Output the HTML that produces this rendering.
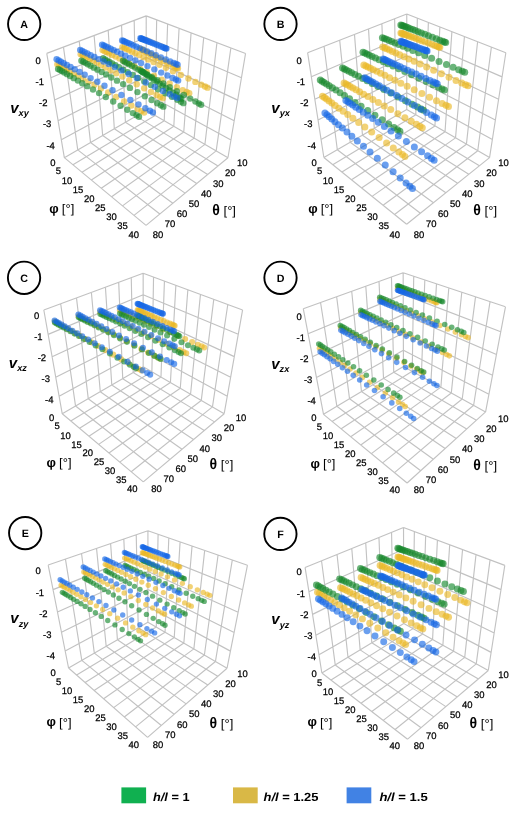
<!DOCTYPE html>
<html><head><meta charset="utf-8"><title>Figure</title>
<style>
html,body{margin:0;padding:0;background:#fff}
svg{display:block}
text{font-family:"Liberation Sans",sans-serif;fill:#000;text-rendering:geometricPrecision}
</style></head><body>
<svg width="520" height="817" viewBox="0 0 520 817">
<defs><filter id="bl" x="-5%" y="-5%" width="110%" height="110%"><feGaussianBlur stdDeviation="0.6"/></filter></defs>
<rect width="520" height="817" fill="#fff"/>
<path d="M146.21 15.85L146.19 110.24 M146.19 110.24L227.95 157.75 M134.19 20.39L136.03 116.13 M136.03 116.13L218.05 165.92 M121.54 25.16L125.41 122.28 M125.41 122.28L207.63 174.52 M108.2 30.19L114.31 128.71 M114.31 128.71L196.65 183.59 M94.12 35.5L102.69 135.44 M102.69 135.44L185.05 193.15 M79.24 41.12L90.52 142.49 M90.52 142.49L172.8 203.27 M63.47 47.06L77.75 149.89 M77.75 149.89L159.81 213.99 M46.75 53.37L64.34 157.65 M64.34 157.65L146.05 225.35 M146.21 15.85L146.19 110.24 M146.19 110.24L64.34 157.65 M156.67 19.81L155.05 115.39 M155.05 115.39L72.95 164.79 M167.62 23.96L164.26 120.74 M164.26 120.74L81.96 172.25 M179.08 28.3L173.82 126.29 M173.82 126.29L91.38 180.06 M191.09 32.84L183.77 132.08 M183.77 132.08L101.26 188.24 M203.7 37.61L194.14 138.1 M194.14 138.1L111.63 196.84 M216.95 42.63L204.93 144.37 M204.93 144.37L122.52 205.86 M230.88 47.9L216.19 150.92 M216.19 150.92L133.98 215.35 M245.56 53.45L227.95 157.75 M227.95 157.75L146.05 225.35 M46.75 53.37L146.21 15.85 M146.21 15.85L245.56 53.45 M50.85 77.67L146.2 37.32 M146.2 37.32L241.45 77.76 M54.62 100.04L146.2 57.36 M146.2 57.36L237.68 100.13 M58.11 120.71L146.2 76.12 M146.2 76.12L234.19 120.8 M61.34 139.86L146.2 93.71 M146.2 93.71L230.95 139.95 M64.34 157.65L146.19 110.24 M146.19 110.24L227.95 157.75" fill="none" stroke="#c2c2c2" stroke-width="1.15"/>
<g fill-opacity="0.63" filter="url(#bl)"><g fill="#ebb726"><circle cx="57.38" cy="64.14" r="3.2"/><circle cx="59.28" cy="65.2" r="3.2"/><circle cx="61.35" cy="66.36" r="3.2"/><circle cx="63.87" cy="67.77" r="3.2"/><circle cx="66.8" cy="69.4" r="3.2"/><circle cx="70.15" cy="71.27" r="3.2"/><circle cx="73.94" cy="73.39" r="3.2"/><circle cx="78.36" cy="75.86" r="3.2"/><circle cx="83.04" cy="78.47" r="3.2"/><circle cx="88.41" cy="81.47" r="3.2"/><circle cx="94.44" cy="84.84" r="3.2"/><circle cx="100.92" cy="88.46" r="3.2"/><circle cx="108.16" cy="92.51" r="3.2"/><circle cx="116.14" cy="96.96" r="3.2"/><circle cx="124.13" cy="101.42" r="3.2"/><circle cx="131.41" cy="105.49" r="3.2"/><circle cx="137.48" cy="108.88" r="3.2"/><circle cx="141.47" cy="111.11" r="3.2"/><circle cx="144.14" cy="112.6" r="3.2"/><circle cx="80.7" cy="54.24" r="3.2"/><circle cx="82.54" cy="55.23" r="3.2"/><circle cx="84.55" cy="56.3" r="3.2"/><circle cx="86.99" cy="57.61" r="3.2"/><circle cx="89.82" cy="59.13" r="3.2"/><circle cx="93.05" cy="60.86" r="3.2"/><circle cx="96.7" cy="62.82" r="3.2"/><circle cx="100.94" cy="65.09" r="3.2"/><circle cx="105.42" cy="67.49" r="3.2"/><circle cx="110.54" cy="70.24" r="3.2"/><circle cx="116.28" cy="73.32" r="3.2"/><circle cx="122.41" cy="76.61" r="3.2"/><circle cx="129.24" cy="80.27" r="3.2"/><circle cx="136.72" cy="84.28" r="3.2"/><circle cx="144.19" cy="88.29" r="3.2"/><circle cx="150.96" cy="91.92" r="3.2"/><circle cx="156.57" cy="94.93" r="3.2"/><circle cx="160.26" cy="96.91" r="3.2"/><circle cx="162.72" cy="98.23" r="3.2"/><circle cx="102.53" cy="50.08" r="3.2"/><circle cx="104.48" cy="51.06" r="3.2"/><circle cx="106.6" cy="52.11" r="3.2"/><circle cx="109.18" cy="53.4" r="3.2"/><circle cx="112.17" cy="54.89" r="3.2"/><circle cx="115.58" cy="56.59" r="3.2"/><circle cx="119.44" cy="58.51" r="3.2"/><circle cx="123.92" cy="60.75" r="3.2"/><circle cx="128.65" cy="63.11" r="3.2"/><circle cx="134.07" cy="65.81" r="3.2"/><circle cx="140.13" cy="68.83" r="3.2"/><circle cx="146.62" cy="72.07" r="3.2"/><circle cx="153.84" cy="75.67" r="3.2"/><circle cx="161.75" cy="79.61" r="3.2"/><circle cx="169.64" cy="83.55" r="3.2"/><circle cx="176.79" cy="87.12" r="3.2"/><circle cx="182.73" cy="90.08" r="3.2"/><circle cx="186.63" cy="92.02" r="3.2"/><circle cx="189.23" cy="93.32" r="3.2"/><circle cx="122.42" cy="47.17" r="3.2"/><circle cx="124.35" cy="48.09" r="3.2"/><circle cx="126.45" cy="49.08" r="3.2"/><circle cx="129.01" cy="50.3" r="3.2"/><circle cx="131.97" cy="51.71" r="3.2"/><circle cx="135.35" cy="53.32" r="3.2"/><circle cx="139.16" cy="55.13" r="3.2"/><circle cx="143.59" cy="57.23" r="3.2"/><circle cx="148.26" cy="59.46" r="3.2"/><circle cx="153.6" cy="61.99" r="3.2"/><circle cx="159.56" cy="64.83" r="3.2"/><circle cx="165.93" cy="67.86" r="3.2"/><circle cx="173.01" cy="71.22" r="3.2"/><circle cx="180.75" cy="74.91" r="3.2"/><circle cx="188.45" cy="78.57" r="3.2"/><circle cx="195.42" cy="81.88" r="3.2"/><circle cx="201.2" cy="84.63" r="3.2"/><circle cx="204.99" cy="86.43" r="3.2"/><circle cx="207.51" cy="87.63" r="3.2"/><circle cx="140.56" cy="49" r="3.2"/><circle cx="141.5" cy="49.49" r="3.2"/><circle cx="142.51" cy="50.01" r="3.2"/><circle cx="143.74" cy="50.65" r="3.2"/><circle cx="145.15" cy="51.38" r="3.2"/><circle cx="146.74" cy="52.21" r="3.2"/><circle cx="148.53" cy="53.14" r="3.2"/><circle cx="150.58" cy="54.2" r="3.2"/><circle cx="152.72" cy="55.31" r="3.2"/><circle cx="155.13" cy="56.56" r="3.2"/><circle cx="157.8" cy="57.95" r="3.2"/><circle cx="160.6" cy="59.4" r="3.2"/><circle cx="163.67" cy="60.99" r="3.2"/><circle cx="166.96" cy="62.7" r="3.2"/><circle cx="170.18" cy="64.37" r="3.2"/><circle cx="173.04" cy="65.86" r="3.2"/><circle cx="175.38" cy="67.08" r="3.2"/><circle cx="176.9" cy="67.87" r="3.2"/><circle cx="177.91" cy="68.39" r="3.2"/></g><g fill="#17882c"><circle cx="58.11" cy="68.89" r="3.2"/><circle cx="59.91" cy="69.95" r="3.2"/><circle cx="61.87" cy="71.11" r="3.2"/><circle cx="64.25" cy="72.52" r="3.2"/><circle cx="67.02" cy="74.15" r="3.2"/><circle cx="70.18" cy="76.02" r="3.2"/><circle cx="73.76" cy="78.14" r="3.2"/><circle cx="77.91" cy="80.59" r="3.2"/><circle cx="82.31" cy="83.19" r="3.2"/><circle cx="87.35" cy="86.17" r="3.2"/><circle cx="93" cy="89.51" r="3.2"/><circle cx="99.05" cy="93.09" r="3.2"/><circle cx="105.79" cy="97.07" r="3.2"/><circle cx="113.19" cy="101.44" r="3.2"/><circle cx="120.58" cy="105.82" r="3.2"/><circle cx="127.3" cy="109.79" r="3.2"/><circle cx="132.88" cy="113.09" r="3.2"/><circle cx="136.56" cy="115.26" r="3.2"/><circle cx="139" cy="116.71" r="3.2"/><circle cx="81.42" cy="60.7" r="3.2"/><circle cx="83.26" cy="61.73" r="3.2"/><circle cx="85.27" cy="62.86" r="3.2"/><circle cx="87.71" cy="64.23" r="3.2"/><circle cx="90.54" cy="65.81" r="3.2"/><circle cx="93.77" cy="67.63" r="3.2"/><circle cx="97.42" cy="69.67" r="3.2"/><circle cx="101.65" cy="72.05" r="3.2"/><circle cx="106.13" cy="74.56" r="3.2"/><circle cx="111.25" cy="77.43" r="3.2"/><circle cx="116.98" cy="80.65" r="3.2"/><circle cx="123.11" cy="84.09" r="3.2"/><circle cx="129.93" cy="87.91" r="3.2"/><circle cx="137.4" cy="92.1" r="3.2"/><circle cx="144.84" cy="96.27" r="3.2"/><circle cx="151.59" cy="100.06" r="3.2"/><circle cx="157.19" cy="103.2" r="3.2"/><circle cx="160.87" cy="105.26" r="3.2"/><circle cx="163.32" cy="106.64" r="3.2"/><circle cx="103.15" cy="58.47" r="3.2"/><circle cx="104.99" cy="59.49" r="3.2"/><circle cx="106.97" cy="60.6" r="3.2"/><circle cx="109.4" cy="61.95" r="3.2"/><circle cx="112.2" cy="63.52" r="3.2"/><circle cx="115.4" cy="65.3" r="3.2"/><circle cx="119.01" cy="67.31" r="3.2"/><circle cx="123.19" cy="69.65" r="3.2"/><circle cx="127.6" cy="72.11" r="3.2"/><circle cx="132.64" cy="74.92" r="3.2"/><circle cx="138.26" cy="78.06" r="3.2"/><circle cx="144.26" cy="81.41" r="3.2"/><circle cx="150.91" cy="85.12" r="3.2"/><circle cx="158.19" cy="89.18" r="3.2"/><circle cx="165.41" cy="93.21" r="3.2"/><circle cx="171.95" cy="96.86" r="3.2"/><circle cx="177.36" cy="99.87" r="3.2"/><circle cx="180.9" cy="101.85" r="3.2"/><circle cx="183.26" cy="103.17" r="3.2"/><circle cx="122.96" cy="60.78" r="3.2"/><circle cx="124.77" cy="61.8" r="3.2"/><circle cx="126.74" cy="62.91" r="3.2"/><circle cx="129.13" cy="64.25" r="3.2"/><circle cx="131.89" cy="65.81" r="3.2"/><circle cx="135.04" cy="67.58" r="3.2"/><circle cx="138.59" cy="69.58" r="3.2"/><circle cx="142.7" cy="71.89" r="3.2"/><circle cx="147.03" cy="74.33" r="3.2"/><circle cx="151.96" cy="77.1" r="3.2"/><circle cx="157.46" cy="80.2" r="3.2"/><circle cx="163.32" cy="83.5" r="3.2"/><circle cx="169.8" cy="87.14" r="3.2"/><circle cx="176.87" cy="91.12" r="3.2"/><circle cx="183.87" cy="95.06" r="3.2"/><circle cx="190.19" cy="98.62" r="3.2"/><circle cx="195.41" cy="101.56" r="3.2"/><circle cx="198.83" cy="103.48" r="3.2"/><circle cx="201.1" cy="104.76" r="3.2"/><circle cx="140.77" cy="70.67" r="3.2"/><circle cx="141.79" cy="71.37" r="3.2"/><circle cx="142.89" cy="72.14" r="3.2"/><circle cx="144.23" cy="73.06" r="3.2"/><circle cx="145.76" cy="74.12" r="3.2"/><circle cx="147.5" cy="75.32" r="3.2"/><circle cx="149.44" cy="76.66" r="3.2"/><circle cx="151.67" cy="78.2" r="3.2"/><circle cx="154" cy="79.81" r="3.2"/><circle cx="156.63" cy="81.62" r="3.2"/><circle cx="159.53" cy="83.62" r="3.2"/><circle cx="162.58" cy="85.72" r="3.2"/><circle cx="165.91" cy="88.02" r="3.2"/><circle cx="169.48" cy="90.49" r="3.2"/><circle cx="172.98" cy="92.91" r="3.2"/><circle cx="176.09" cy="95.05" r="3.2"/><circle cx="178.63" cy="96.81" r="3.2"/><circle cx="180.28" cy="97.94" r="3.2"/><circle cx="181.37" cy="98.7" r="3.2"/></g><g fill="#1467e6"><circle cx="56.64" cy="59.31" r="3.2"/><circle cx="58.71" cy="60.46" r="3.2"/><circle cx="60.96" cy="61.7" r="3.2"/><circle cx="63.71" cy="63.22" r="3.2"/><circle cx="66.9" cy="64.98" r="3.2"/><circle cx="70.56" cy="67" r="3.2"/><circle cx="74.71" cy="69.29" r="3.2"/><circle cx="79.56" cy="71.97" r="3.2"/><circle cx="84.7" cy="74.81" r="3.2"/><circle cx="90.62" cy="78.08" r="3.2"/><circle cx="97.28" cy="81.76" r="3.2"/><circle cx="104.47" cy="85.72" r="3.2"/><circle cx="112.51" cy="90.16" r="3.2"/><circle cx="121.41" cy="95.07" r="3.2"/><circle cx="130.35" cy="100.01" r="3.2"/><circle cx="138.53" cy="104.53" r="3.2"/><circle cx="145.37" cy="108.31" r="3.2"/><circle cx="149.88" cy="110.8" r="3.2"/><circle cx="152.9" cy="112.47" r="3.2"/><circle cx="80.23" cy="50.01" r="3.2"/><circle cx="82.34" cy="51.05" r="3.2"/><circle cx="84.63" cy="52.18" r="3.2"/><circle cx="87.43" cy="53.57" r="3.2"/><circle cx="90.68" cy="55.18" r="3.2"/><circle cx="94.4" cy="57.02" r="3.2"/><circle cx="98.61" cy="59.1" r="3.2"/><circle cx="103.53" cy="61.54" r="3.2"/><circle cx="108.74" cy="64.12" r="3.2"/><circle cx="114.73" cy="67.08" r="3.2"/><circle cx="121.47" cy="70.41" r="3.2"/><circle cx="128.71" cy="74" r="3.2"/><circle cx="136.82" cy="78.01" r="3.2"/><circle cx="145.76" cy="82.43" r="3.2"/><circle cx="154.73" cy="86.87" r="3.2"/><circle cx="162.92" cy="90.92" r="3.2"/><circle cx="169.76" cy="94.31" r="3.2"/><circle cx="174.26" cy="96.54" r="3.2"/><circle cx="177.28" cy="98.03" r="3.2"/><circle cx="102.13" cy="44.66" r="3.2"/><circle cx="103.88" cy="45.49" r="3.2"/><circle cx="105.76" cy="46.38" r="3.2"/><circle cx="108.07" cy="47.47" r="3.2"/><circle cx="110.73" cy="48.72" r="3.2"/><circle cx="113.76" cy="50.16" r="3.2"/><circle cx="117.18" cy="51.78" r="3.2"/><circle cx="121.15" cy="53.65" r="3.2"/><circle cx="125.34" cy="55.63" r="3.2"/><circle cx="130.12" cy="57.89" r="3.2"/><circle cx="135.45" cy="60.41" r="3.2"/><circle cx="141.14" cy="63.1" r="3.2"/><circle cx="147.46" cy="66.09" r="3.2"/><circle cx="154.35" cy="69.34" r="3.2"/><circle cx="161.21" cy="72.58" r="3.2"/><circle cx="167.4" cy="75.51" r="3.2"/><circle cx="172.53" cy="77.94" r="3.2"/><circle cx="175.89" cy="79.52" r="3.2"/><circle cx="178.12" cy="80.58" r="3.2"/><circle cx="122.15" cy="40.45" r="3.2"/><circle cx="123.48" cy="41.03" r="3.2"/><circle cx="124.92" cy="41.66" r="3.2"/><circle cx="126.67" cy="42.42" r="3.2"/><circle cx="128.69" cy="43.31" r="3.2"/><circle cx="130.98" cy="44.31" r="3.2"/><circle cx="133.56" cy="45.43" r="3.2"/><circle cx="136.53" cy="46.73" r="3.2"/><circle cx="139.65" cy="48.1" r="3.2"/><circle cx="143.19" cy="49.65" r="3.2"/><circle cx="147.12" cy="51.36" r="3.2"/><circle cx="151.28" cy="53.18" r="3.2"/><circle cx="155.86" cy="55.18" r="3.2"/><circle cx="160.82" cy="57.35" r="3.2"/><circle cx="165.71" cy="59.49" r="3.2"/><circle cx="170.1" cy="61.41" r="3.2"/><circle cx="173.7" cy="62.99" r="3.2"/><circle cx="176.05" cy="64.01" r="3.2"/><circle cx="177.61" cy="64.69" r="3.2"/><circle cx="140.46" cy="38.27" r="3.2"/><circle cx="141.13" cy="38.54" r="3.2"/><circle cx="141.84" cy="38.82" r="3.2"/><circle cx="142.71" cy="39.17" r="3.2"/><circle cx="143.7" cy="39.56" r="3.2"/><circle cx="144.83" cy="40.01" r="3.2"/><circle cx="146.08" cy="40.51" r="3.2"/><circle cx="147.52" cy="41.08" r="3.2"/><circle cx="149.02" cy="41.68" r="3.2"/><circle cx="150.71" cy="42.35" r="3.2"/><circle cx="152.57" cy="43.09" r="3.2"/><circle cx="154.52" cy="43.87" r="3.2"/><circle cx="156.65" cy="44.71" r="3.2"/><circle cx="158.93" cy="45.62" r="3.2"/><circle cx="161.15" cy="46.5" r="3.2"/><circle cx="163.12" cy="47.29" r="3.2"/><circle cx="164.72" cy="47.93" r="3.2"/><circle cx="165.76" cy="48.34" r="3.2"/><circle cx="166.45" cy="48.61" r="3.2"/></g></g>
<g font-size="9.5" text-anchor="middle" fill="#000" stroke="#000" stroke-width="0.25"><text transform="translate(38.1 64.05) scale(.995 1)">0</text><text transform="translate(39.8 85.25) scale(.995 1)">-1</text><text transform="translate(43.3 106.35) scale(.995 1)">-2</text><text transform="translate(47.1 127.35) scale(.995 1)">-3</text><text transform="translate(50.6 148.75) scale(.995 1)">-4</text><text transform="translate(53 165.85) scale(.995 1)">0</text><text transform="translate(58.5 174.45) scale(.995 1)">5</text><text transform="translate(67 183.9) scale(.995 1)">10</text><text transform="translate(78 192.9) scale(.995 1)">15</text><text transform="translate(89.2 201.75) scale(.995 1)">20</text><text transform="translate(100.3 210.75) scale(.995 1)">25</text><text transform="translate(111.4 219.65) scale(.995 1)">30</text><text transform="translate(122.6 228.6) scale(.995 1)">35</text><text transform="translate(133.75 237.55) scale(.995 1)">40</text><text transform="translate(158 237.55) scale(.995 1)">80</text><text transform="translate(170.04 227.35) scale(.995 1)">70</text><text transform="translate(182.1 217.25) scale(.995 1)">60</text><text transform="translate(194.1 207.05) scale(.995 1)">50</text><text transform="translate(206.2 196.85) scale(.995 1)">40</text><text transform="translate(218.2 186.7) scale(.995 1)">30</text><text transform="translate(230.3 176.45) scale(.995 1)">20</text><text transform="translate(242.3 166.35) scale(.995 1)">10</text></g>
<text x="49.3" y="213.2" font-size="13.2" font-weight="bold">φ</text>
<text x="61.8" y="213.4" font-size="12.4" textLength="12.5" lengthAdjust="spacingAndGlyphs">[°]</text>
<text x="212.2" y="214.9" font-size="15.2" font-weight="bold" textLength="7.6" lengthAdjust="spacingAndGlyphs">θ</text>
<text x="223.5" y="214.9" font-size="12.4" textLength="12.5" lengthAdjust="spacingAndGlyphs">[°]</text>
<text x="10.2" y="113" font-size="15" font-weight="bold" font-style="italic">v<tspan font-size="9.2" dy="3.4">xy</tspan></text>
<circle cx="24.2" cy="23.9" r="16.15" fill="none" stroke="#000" stroke-width="1.9"/>
<text x="24.2" y="27.9" font-size="10.7" font-weight="bold" text-anchor="middle">A</text>
<path d="M406.76 13.97L406.75 109.58 M406.75 109.58L489.56 157.6 M394.63 18.71L396.36 115.59 M396.36 115.59L479.41 165.76 M381.89 23.68L385.54 121.85 M385.54 121.85L468.76 174.32 M368.53 28.9L374.26 128.38 M374.26 128.38L457.58 183.3 M354.47 34.39L362.48 135.19 M362.48 135.19L445.83 192.75 M339.67 40.16L350.18 142.3 M350.18 142.3L433.45 202.69 M324.08 46.25L337.32 149.74 M337.32 149.74L420.41 213.18 M307.61 52.68L323.87 157.52 M323.87 157.52L406.64 224.25 M406.76 13.97L406.75 109.58 M406.75 109.58L323.87 157.52 M417.34 18.11L415.81 114.83 M415.81 114.83L332.7 164.65 M428.36 22.43L425.2 120.28 M425.2 120.28L341.92 172.08 M439.87 26.93L434.93 125.92 M434.93 125.92L351.53 179.83 M451.89 31.63L445.03 131.78 M445.03 131.78L361.57 187.92 M464.45 36.55L455.52 137.86 M455.52 137.86L372.07 196.38 M477.6 41.7L466.43 144.18 M466.43 144.18L383.06 205.24 M491.38 47.09L477.76 150.76 M477.76 150.76L394.57 214.52 M505.83 52.74L489.56 157.6 M489.56 157.6L406.64 224.25 M307.61 52.68L406.76 13.97 M406.76 13.97L505.83 52.74 M311.35 76.82L406.76 35.53 M406.76 35.53L502.08 76.88 M314.82 99.2L406.76 55.75 M406.76 55.75L498.61 99.27 M318.05 120L406.76 74.77 M406.76 74.77L495.38 120.08 M321.06 139.4L406.76 92.68 M406.76 92.68L492.38 139.47 M323.87 157.52L406.75 109.58 M406.75 109.58L489.56 157.6" fill="none" stroke="#c2c2c2" stroke-width="1.15"/>
<g fill-opacity="0.63" filter="url(#bl)"><g fill="#ebb726"><circle cx="322.57" cy="96.22" r="3.5"/><circle cx="324.45" cy="97.6" r="3.5"/><circle cx="326.5" cy="99.09" r="3.5"/><circle cx="328.99" cy="100.92" r="3.5"/><circle cx="331.88" cy="103.02" r="3.5"/><circle cx="335.17" cy="105.42" r="3.5"/><circle cx="338.88" cy="108.13" r="3.5"/><circle cx="343.18" cy="111.28" r="3.5"/><circle cx="347.71" cy="114.59" r="3.5"/><circle cx="352.89" cy="118.37" r="3.5"/><circle cx="358.67" cy="122.59" r="3.5"/><circle cx="364.84" cy="127.1" r="3.5"/><circle cx="371.68" cy="132.1" r="3.5"/><circle cx="379.16" cy="137.56" r="3.5"/><circle cx="386.59" cy="142.98" r="3.5"/><circle cx="393.3" cy="147.89" r="3.5"/><circle cx="398.86" cy="151.95" r="3.5"/><circle cx="402.5" cy="154.61" r="3.5"/><circle cx="404.92" cy="156.38" r="3.5"/><circle cx="344.08" cy="82.94" r="3.5"/><circle cx="345.87" cy="83.97" r="3.5"/><circle cx="347.82" cy="85.08" r="3.5"/><circle cx="350.19" cy="86.44" r="3.5"/><circle cx="352.93" cy="88" r="3.5"/><circle cx="356.06" cy="89.79" r="3.5"/><circle cx="359.58" cy="91.81" r="3.5"/><circle cx="363.67" cy="94.14" r="3.5"/><circle cx="367.98" cy="96.61" r="3.5"/><circle cx="372.9" cy="99.42" r="3.5"/><circle cx="378.39" cy="102.56" r="3.5"/><circle cx="384.25" cy="105.91" r="3.5"/><circle cx="390.74" cy="109.62" r="3.5"/><circle cx="397.83" cy="113.68" r="3.5"/><circle cx="404.88" cy="117.71" r="3.5"/><circle cx="411.25" cy="121.35" r="3.5"/><circle cx="416.52" cy="124.36" r="3.5"/><circle cx="419.97" cy="126.34" r="3.5"/><circle cx="422.27" cy="127.65" r="3.5"/><circle cx="363.87" cy="65" r="3.5"/><circle cx="365.8" cy="65.95" r="3.5"/><circle cx="367.89" cy="66.98" r="3.5"/><circle cx="370.44" cy="68.23" r="3.5"/><circle cx="373.39" cy="69.68" r="3.5"/><circle cx="376.75" cy="71.33" r="3.5"/><circle cx="380.55" cy="73.2" r="3.5"/><circle cx="384.95" cy="75.36" r="3.5"/><circle cx="389.6" cy="77.65" r="3.5"/><circle cx="394.91" cy="80.26" r="3.5"/><circle cx="400.84" cy="83.17" r="3.5"/><circle cx="407.18" cy="86.28" r="3.5"/><circle cx="414.21" cy="89.74" r="3.5"/><circle cx="421.9" cy="93.52" r="3.5"/><circle cx="429.55" cy="97.28" r="3.5"/><circle cx="436.48" cy="100.68" r="3.5"/><circle cx="442.21" cy="103.5" r="3.5"/><circle cx="445.97" cy="105.34" r="3.5"/><circle cx="448.48" cy="106.57" r="3.5"/><circle cx="382.76" cy="47" r="3.5"/><circle cx="384.72" cy="47.9" r="3.5"/><circle cx="386.84" cy="48.86" r="3.5"/><circle cx="389.43" cy="50.04" r="3.5"/><circle cx="392.42" cy="51.41" r="3.5"/><circle cx="395.83" cy="52.96" r="3.5"/><circle cx="399.68" cy="54.71" r="3.5"/><circle cx="404.14" cy="56.75" r="3.5"/><circle cx="408.84" cy="58.89" r="3.5"/><circle cx="414.2" cy="61.34" r="3.5"/><circle cx="420.19" cy="64.06" r="3.5"/><circle cx="426.58" cy="66.98" r="3.5"/><circle cx="433.66" cy="70.2" r="3.5"/><circle cx="441.39" cy="73.73" r="3.5"/><circle cx="449.07" cy="77.23" r="3.5"/><circle cx="456.01" cy="80.4" r="3.5"/><circle cx="461.76" cy="83.01" r="3.5"/><circle cx="465.52" cy="84.73" r="3.5"/><circle cx="468.02" cy="85.87" r="3.5"/><circle cx="400.91" cy="32.95" r="3.5"/><circle cx="401.88" cy="33.31" r="3.5"/><circle cx="402.93" cy="33.7" r="3.5"/><circle cx="404.21" cy="34.17" r="3.5"/><circle cx="405.67" cy="34.71" r="3.5"/><circle cx="407.32" cy="35.32" r="3.5"/><circle cx="409.18" cy="36" r="3.5"/><circle cx="411.31" cy="36.79" r="3.5"/><circle cx="413.53" cy="37.61" r="3.5"/><circle cx="416.05" cy="38.53" r="3.5"/><circle cx="418.82" cy="39.55" r="3.5"/><circle cx="421.74" cy="40.63" r="3.5"/><circle cx="424.93" cy="41.81" r="3.5"/><circle cx="428.37" cy="43.07" r="3.5"/><circle cx="431.73" cy="44.31" r="3.5"/><circle cx="434.72" cy="45.42" r="3.5"/><circle cx="437.16" cy="46.32" r="3.5"/><circle cx="438.75" cy="46.9" r="3.5"/><circle cx="439.8" cy="47.29" r="3.5"/></g><g fill="#17882c"><circle cx="320.27" cy="79.97" r="3.5"/><circle cx="322.09" cy="81.14" r="3.5"/><circle cx="324.06" cy="82.41" r="3.5"/><circle cx="326.47" cy="83.96" r="3.5"/><circle cx="329.25" cy="85.75" r="3.5"/><circle cx="332.42" cy="87.8" r="3.5"/><circle cx="336" cy="90.1" r="3.5"/><circle cx="340.15" cy="92.77" r="3.5"/><circle cx="344.53" cy="95.59" r="3.5"/><circle cx="349.53" cy="98.81" r="3.5"/><circle cx="355.11" cy="102.41" r="3.5"/><circle cx="361.08" cy="106.25" r="3.5"/><circle cx="367.69" cy="110.51" r="3.5"/><circle cx="374.93" cy="115.17" r="3.5"/><circle cx="382.12" cy="119.8" r="3.5"/><circle cx="388.63" cy="124" r="3.5"/><circle cx="394.02" cy="127.46" r="3.5"/><circle cx="397.55" cy="129.74" r="3.5"/><circle cx="399.9" cy="131.25" r="3.5"/><circle cx="342.54" cy="67.99" r="3.5"/><circle cx="344.38" cy="68.95" r="3.5"/><circle cx="346.38" cy="69.99" r="3.5"/><circle cx="348.82" cy="71.27" r="3.5"/><circle cx="351.65" cy="72.74" r="3.5"/><circle cx="354.87" cy="74.41" r="3.5"/><circle cx="358.5" cy="76.31" r="3.5"/><circle cx="362.72" cy="78.5" r="3.5"/><circle cx="367.17" cy="80.82" r="3.5"/><circle cx="372.25" cy="83.47" r="3.5"/><circle cx="377.93" cy="86.43" r="3.5"/><circle cx="384" cy="89.59" r="3.5"/><circle cx="390.74" cy="93.1" r="3.5"/><circle cx="398.11" cy="96.94" r="3.5"/><circle cx="405.45" cy="100.76" r="3.5"/><circle cx="412.08" cy="104.22" r="3.5"/><circle cx="417.58" cy="107.08" r="3.5"/><circle cx="421.19" cy="108.96" r="3.5"/><circle cx="423.59" cy="110.21" r="3.5"/><circle cx="363" cy="52.19" r="3.5"/><circle cx="364.86" cy="53.06" r="3.5"/><circle cx="366.89" cy="54" r="3.5"/><circle cx="369.35" cy="55.14" r="3.5"/><circle cx="372.2" cy="56.47" r="3.5"/><circle cx="375.46" cy="57.98" r="3.5"/><circle cx="379.12" cy="59.68" r="3.5"/><circle cx="383.38" cy="61.65" r="3.5"/><circle cx="387.86" cy="63.74" r="3.5"/><circle cx="392.98" cy="66.11" r="3.5"/><circle cx="398.7" cy="68.77" r="3.5"/><circle cx="404.8" cy="71.6" r="3.5"/><circle cx="411.57" cy="74.74" r="3.5"/><circle cx="418.96" cy="78.17" r="3.5"/><circle cx="426.3" cy="81.58" r="3.5"/><circle cx="432.94" cy="84.66" r="3.5"/><circle cx="438.44" cy="87.21" r="3.5"/><circle cx="442.04" cy="88.89" r="3.5"/><circle cx="444.43" cy="90" r="3.5"/><circle cx="382.41" cy="37.65" r="3.5"/><circle cx="384.31" cy="38.45" r="3.5"/><circle cx="386.37" cy="39.31" r="3.5"/><circle cx="388.87" cy="40.36" r="3.5"/><circle cx="391.77" cy="41.58" r="3.5"/><circle cx="395.06" cy="42.96" r="3.5"/><circle cx="398.78" cy="44.52" r="3.5"/><circle cx="403.09" cy="46.33" r="3.5"/><circle cx="407.64" cy="48.24" r="3.5"/><circle cx="412.82" cy="50.42" r="3.5"/><circle cx="418.6" cy="52.85" r="3.5"/><circle cx="424.77" cy="55.43" r="3.5"/><circle cx="431.6" cy="58.3" r="3.5"/><circle cx="439.06" cy="61.43" r="3.5"/><circle cx="446.46" cy="64.54" r="3.5"/><circle cx="453.15" cy="67.35" r="3.5"/><circle cx="458.67" cy="69.67" r="3.5"/><circle cx="462.3" cy="71.19" r="3.5"/><circle cx="464.7" cy="72.2" r="3.5"/><circle cx="400.84" cy="24.95" r="3.5"/><circle cx="401.95" cy="25.39" r="3.5"/><circle cx="403.15" cy="25.86" r="3.5"/><circle cx="404.61" cy="26.43" r="3.5"/><circle cx="406.29" cy="27.09" r="3.5"/><circle cx="408.18" cy="27.83" r="3.5"/><circle cx="410.31" cy="28.66" r="3.5"/><circle cx="412.76" cy="29.62" r="3.5"/><circle cx="415.31" cy="30.62" r="3.5"/><circle cx="418.2" cy="31.75" r="3.5"/><circle cx="421.4" cy="33" r="3.5"/><circle cx="424.76" cy="34.32" r="3.5"/><circle cx="428.45" cy="35.76" r="3.5"/><circle cx="432.43" cy="37.32" r="3.5"/><circle cx="436.32" cy="38.84" r="3.5"/><circle cx="439.79" cy="40.2" r="3.5"/><circle cx="442.63" cy="41.31" r="3.5"/><circle cx="444.48" cy="42.03" r="3.5"/><circle cx="445.7" cy="42.51" r="3.5"/></g><g fill="#1467e6"><circle cx="324.94" cy="113.04" r="3.5"/><circle cx="326.97" cy="114.79" r="3.5"/><circle cx="329.16" cy="116.68" r="3.5"/><circle cx="331.83" cy="118.98" r="3.5"/><circle cx="334.91" cy="121.64" r="3.5"/><circle cx="338.43" cy="124.68" r="3.5"/><circle cx="342.39" cy="128.1" r="3.5"/><circle cx="346.98" cy="132.06" r="3.5"/><circle cx="351.82" cy="136.23" r="3.5"/><circle cx="357.34" cy="140.99" r="3.5"/><circle cx="363.49" cy="146.3" r="3.5"/><circle cx="370.05" cy="151.96" r="3.5"/><circle cx="377.31" cy="158.23" r="3.5"/><circle cx="385.24" cy="165.07" r="3.5"/><circle cx="393.1" cy="171.85" r="3.5"/><circle cx="400.2" cy="177.98" r="3.5"/><circle cx="406.07" cy="183.04" r="3.5"/><circle cx="409.91" cy="186.36" r="3.5"/><circle cx="412.47" cy="188.57" r="3.5"/><circle cx="345.87" cy="100.4" r="3.5"/><circle cx="347.88" cy="101.77" r="3.5"/><circle cx="350.06" cy="103.25" r="3.5"/><circle cx="352.72" cy="105.05" r="3.5"/><circle cx="355.79" cy="107.13" r="3.5"/><circle cx="359.3" cy="109.51" r="3.5"/><circle cx="363.25" cy="112.2" r="3.5"/><circle cx="367.84" cy="115.31" r="3.5"/><circle cx="372.69" cy="118.6" r="3.5"/><circle cx="378.23" cy="122.36" r="3.5"/><circle cx="384.41" cy="126.56" r="3.5"/><circle cx="391.02" cy="131.04" r="3.5"/><circle cx="398.35" cy="136.02" r="3.5"/><circle cx="406.38" cy="141.46" r="3.5"/><circle cx="414.36" cy="146.88" r="3.5"/><circle cx="421.59" cy="151.79" r="3.5"/><circle cx="427.57" cy="155.85" r="3.5"/><circle cx="431.5" cy="158.51" r="3.5"/><circle cx="434.11" cy="160.28" r="3.5"/><circle cx="364.74" cy="77.72" r="3.5"/><circle cx="366.42" cy="78.67" r="3.5"/><circle cx="368.25" cy="79.69" r="3.5"/><circle cx="370.47" cy="80.93" r="3.5"/><circle cx="373.03" cy="82.37" r="3.5"/><circle cx="375.94" cy="84" r="3.5"/><circle cx="379.23" cy="85.84" r="3.5"/><circle cx="383.02" cy="87.97" r="3.5"/><circle cx="387.02" cy="90.21" r="3.5"/><circle cx="391.56" cy="92.76" r="3.5"/><circle cx="396.62" cy="95.6" r="3.5"/><circle cx="402.01" cy="98.61" r="3.5"/><circle cx="407.95" cy="101.95" r="3.5"/><circle cx="414.42" cy="105.57" r="3.5"/><circle cx="420.82" cy="109.16" r="3.5"/><circle cx="426.58" cy="112.39" r="3.5"/><circle cx="431.34" cy="115.06" r="3.5"/><circle cx="434.44" cy="116.8" r="3.5"/><circle cx="436.51" cy="117.95" r="3.5"/><circle cx="383.21" cy="58.99" r="3.5"/><circle cx="384.52" cy="59.59" r="3.5"/><circle cx="385.93" cy="60.24" r="3.5"/><circle cx="387.65" cy="61.03" r="3.5"/><circle cx="389.63" cy="61.94" r="3.5"/><circle cx="391.88" cy="62.96" r="3.5"/><circle cx="394.41" cy="64.12" r="3.5"/><circle cx="397.32" cy="65.45" r="3.5"/><circle cx="400.37" cy="66.85" r="3.5"/><circle cx="403.83" cy="68.43" r="3.5"/><circle cx="407.66" cy="70.18" r="3.5"/><circle cx="411.71" cy="72.03" r="3.5"/><circle cx="416.16" cy="74.07" r="3.5"/><circle cx="420.98" cy="76.28" r="3.5"/><circle cx="425.72" cy="78.44" r="3.5"/><circle cx="429.96" cy="80.38" r="3.5"/><circle cx="433.44" cy="81.98" r="3.5"/><circle cx="435.71" cy="83.01" r="3.5"/><circle cx="437.21" cy="83.7" r="3.5"/><circle cx="400.99" cy="41.38" r="3.5"/><circle cx="401.65" cy="41.63" r="3.5"/><circle cx="402.37" cy="41.89" r="3.5"/><circle cx="403.25" cy="42.21" r="3.5"/><circle cx="404.25" cy="42.58" r="3.5"/><circle cx="405.38" cy="43" r="3.5"/><circle cx="406.64" cy="43.46" r="3.5"/><circle cx="408.09" cy="43.99" r="3.5"/><circle cx="409.6" cy="44.54" r="3.5"/><circle cx="411.3" cy="45.17" r="3.5"/><circle cx="413.16" cy="45.85" r="3.5"/><circle cx="415.12" cy="46.57" r="3.5"/><circle cx="417.26" cy="47.35" r="3.5"/><circle cx="419.54" cy="48.19" r="3.5"/><circle cx="421.77" cy="49.01" r="3.5"/><circle cx="423.75" cy="49.73" r="3.5"/><circle cx="425.36" cy="50.32" r="3.5"/><circle cx="426.4" cy="50.7" r="3.5"/><circle cx="427.08" cy="50.96" r="3.5"/></g></g>
<g font-size="9.5" text-anchor="middle" fill="#000" stroke="#000" stroke-width="0.25"><text transform="translate(299.2 64.05) scale(.995 1)">0</text><text transform="translate(300.9 85.25) scale(.995 1)">-1</text><text transform="translate(304.4 106.35) scale(.995 1)">-2</text><text transform="translate(308.2 127.35) scale(.995 1)">-3</text><text transform="translate(311.7 148.75) scale(.995 1)">-4</text><text transform="translate(314.1 165.85) scale(.995 1)">0</text><text transform="translate(319.6 174.45) scale(.995 1)">5</text><text transform="translate(328.1 183.9) scale(.995 1)">10</text><text transform="translate(339.1 192.9) scale(.995 1)">15</text><text transform="translate(350.3 201.75) scale(.995 1)">20</text><text transform="translate(361.4 210.75) scale(.995 1)">25</text><text transform="translate(372.5 219.65) scale(.995 1)">30</text><text transform="translate(383.7 228.6) scale(.995 1)">35</text><text transform="translate(394.85 237.55) scale(.995 1)">40</text><text transform="translate(419.1 237.55) scale(.995 1)">80</text><text transform="translate(431.14 227.35) scale(.995 1)">70</text><text transform="translate(443.2 217.25) scale(.995 1)">60</text><text transform="translate(455.2 207.05) scale(.995 1)">50</text><text transform="translate(467.3 196.85) scale(.995 1)">40</text><text transform="translate(479.3 186.7) scale(.995 1)">30</text><text transform="translate(491.4 176.45) scale(.995 1)">20</text><text transform="translate(503.4 166.35) scale(.995 1)">10</text></g>
<text x="308.2" y="213.2" font-size="13.2" font-weight="bold">φ</text>
<text x="320.7" y="213.4" font-size="12.4" textLength="12.5" lengthAdjust="spacingAndGlyphs">[°]</text>
<text x="473.3" y="214.9" font-size="15.2" font-weight="bold" textLength="7.6" lengthAdjust="spacingAndGlyphs">θ</text>
<text x="484.6" y="214.9" font-size="12.4" textLength="12.5" lengthAdjust="spacingAndGlyphs">[°]</text>
<text x="271.3" y="113" font-size="15" font-weight="bold" font-style="italic">v<tspan font-size="9.2" dy="3.4">yx</tspan></text>
<circle cx="280.5" cy="23.9" r="16.15" fill="none" stroke="#000" stroke-width="1.9"/>
<text x="280.5" y="27.9" font-size="10.7" font-weight="bold" text-anchor="middle">B</text>
<path d="M143.16 273.33L143.17 366.76 M143.17 366.76L224.19 413.71 M131.27 277.72L133.18 372.57 M133.18 372.57L214.5 421.87 M118.71 282.36L122.73 378.64 M122.73 378.64L204.27 430.49 M105.44 287.26L111.78 385.01 M111.78 385.01L193.47 439.59 M91.39 292.44L100.3 391.68 M100.3 391.68L182.03 449.23 M76.49 297.94L88.24 398.68 M88.24 398.68L169.9 459.45 M60.67 303.79L75.57 406.05 M75.57 406.05L157.01 470.3 M43.82 310.01L62.24 413.8 M62.24 413.8L143.3 481.86 M143.16 273.33L143.17 366.76 M143.17 366.76L62.24 413.8 M153.55 277.15L151.9 371.82 M151.9 371.82L70.71 420.91 M164.43 281.16L160.98 377.08 M160.98 377.08L79.58 428.36 M175.85 285.37L170.43 382.56 M170.43 382.56L88.9 436.18 M187.85 289.78L180.28 388.27 M180.28 388.27L98.68 444.39 M200.47 294.43L190.55 394.22 M190.55 394.22L108.97 453.03 M213.77 299.32L201.27 400.43 M201.27 400.43L119.8 462.13 M227.79 304.49L212.47 406.92 M212.47 406.92L131.23 471.72 M242.6 309.94L224.19 413.71 M224.19 413.71L143.3 481.86 M43.82 310.01L143.16 273.33 M143.16 273.33L242.6 309.94 M48.14 334.38L143.16 294.69 M143.16 294.69L238.27 334.3 M52.11 356.72L143.16 314.58 M143.16 314.58L234.31 356.64 M55.75 377.27L143.17 333.14 M143.17 333.14L230.67 377.18 M59.12 396.23L143.17 350.49 M143.17 350.49L227.3 396.15 M62.24 413.8L143.17 366.76 M143.17 366.76L224.19 413.71" fill="none" stroke="#c2c2c2" stroke-width="1.15"/>
<g fill-opacity="0.63" filter="url(#bl)"><g fill="#ebb726"><circle cx="54.75" cy="321.58" r="3.03"/><circle cx="56.63" cy="322.65" r="3.03"/><circle cx="58.67" cy="323.8" r="3.03"/><circle cx="61.17" cy="325.21" r="3.03"/><circle cx="64.06" cy="326.85" r="3.03"/><circle cx="67.38" cy="328.72" r="3.03"/><circle cx="71.14" cy="330.85" r="3.03"/><circle cx="75.52" cy="333.32" r="3.03"/><circle cx="80.17" cy="335.95" r="3.03"/><circle cx="85.51" cy="338.98" r="3.03"/><circle cx="91.52" cy="342.37" r="3.03"/><circle cx="97.99" cy="346.03" r="3.03"/><circle cx="105.22" cy="350.12" r="3.03"/><circle cx="113.21" cy="354.63" r="3.03"/><circle cx="121.23" cy="359.17" r="3.03"/><circle cx="128.55" cy="363.31" r="3.03"/><circle cx="134.66" cy="366.76" r="3.03"/><circle cx="138.69" cy="369.04" r="3.03"/><circle cx="141.38" cy="370.56" r="3.03"/><circle cx="78.59" cy="315.94" r="3.03"/><circle cx="80.4" cy="316.89" r="3.03"/><circle cx="82.37" cy="317.92" r="3.03"/><circle cx="84.76" cy="319.18" r="3.03"/><circle cx="87.54" cy="320.64" r="3.03"/><circle cx="90.71" cy="322.3" r="3.03"/><circle cx="94.3" cy="324.19" r="3.03"/><circle cx="98.48" cy="326.38" r="3.03"/><circle cx="102.9" cy="328.7" r="3.03"/><circle cx="107.96" cy="331.35" r="3.03"/><circle cx="113.63" cy="334.33" r="3.03"/><circle cx="119.71" cy="337.52" r="3.03"/><circle cx="126.48" cy="341.07" r="3.03"/><circle cx="133.92" cy="344.97" r="3.03"/><circle cx="141.36" cy="348.88" r="3.03"/><circle cx="148.12" cy="352.42" r="3.03"/><circle cx="153.73" cy="355.37" r="3.03"/><circle cx="157.43" cy="357.31" r="3.03"/><circle cx="159.89" cy="358.6" r="3.03"/><circle cx="100.22" cy="311.95" r="3.03"/><circle cx="102.14" cy="312.87" r="3.03"/><circle cx="104.21" cy="313.86" r="3.03"/><circle cx="106.75" cy="315.08" r="3.03"/><circle cx="109.68" cy="316.49" r="3.03"/><circle cx="113.04" cy="318.11" r="3.03"/><circle cx="116.84" cy="319.93" r="3.03"/><circle cx="121.25" cy="322.05" r="3.03"/><circle cx="125.92" cy="324.3" r="3.03"/><circle cx="131.28" cy="326.87" r="3.03"/><circle cx="137.27" cy="329.75" r="3.03"/><circle cx="143.71" cy="332.84" r="3.03"/><circle cx="150.87" cy="336.29" r="3.03"/><circle cx="158.75" cy="340.07" r="3.03"/><circle cx="166.61" cy="343.85" r="3.03"/><circle cx="173.77" cy="347.29" r="3.03"/><circle cx="179.71" cy="350.15" r="3.03"/><circle cx="183.62" cy="352.03" r="3.03"/><circle cx="186.23" cy="353.28" r="3.03"/><circle cx="119.87" cy="310.22" r="3.03"/><circle cx="121.77" cy="311.06" r="3.03"/><circle cx="123.82" cy="311.96" r="3.03"/><circle cx="126.33" cy="313.07" r="3.03"/><circle cx="129.24" cy="314.35" r="3.03"/><circle cx="132.55" cy="315.82" r="3.03"/><circle cx="136.3" cy="317.47" r="3.03"/><circle cx="140.66" cy="319.39" r="3.03"/><circle cx="145.26" cy="321.43" r="3.03"/><circle cx="150.53" cy="323.75" r="3.03"/><circle cx="156.42" cy="326.35" r="3.03"/><circle cx="162.73" cy="329.14" r="3.03"/><circle cx="169.75" cy="332.24" r="3.03"/><circle cx="177.45" cy="335.64" r="3.03"/><circle cx="185.13" cy="339.03" r="3.03"/><circle cx="192.1" cy="342.11" r="3.03"/><circle cx="197.88" cy="344.66" r="3.03"/><circle cx="201.68" cy="346.34" r="3.03"/><circle cx="204.21" cy="347.46" r="3.03"/><circle cx="137.64" cy="310.05" r="3.03"/><circle cx="138.56" cy="310.44" r="3.03"/><circle cx="139.55" cy="310.86" r="3.03"/><circle cx="140.76" cy="311.37" r="3.03"/><circle cx="142.14" cy="311.95" r="3.03"/><circle cx="143.71" cy="312.61" r="3.03"/><circle cx="145.47" cy="313.36" r="3.03"/><circle cx="147.49" cy="314.21" r="3.03"/><circle cx="149.6" cy="315.1" r="3.03"/><circle cx="151.99" cy="316.11" r="3.03"/><circle cx="154.63" cy="317.22" r="3.03"/><circle cx="157.41" cy="318.39" r="3.03"/><circle cx="160.45" cy="319.68" r="3.03"/><circle cx="163.72" cy="321.06" r="3.03"/><circle cx="166.92" cy="322.41" r="3.03"/><circle cx="169.78" cy="323.62" r="3.03"/><circle cx="172.12" cy="324.6" r="3.03"/><circle cx="173.63" cy="325.24" r="3.03"/><circle cx="174.64" cy="325.67" r="3.03"/></g><g fill="#17882c"><circle cx="54.91" cy="322.54" r="3.03"/><circle cx="56.69" cy="323.54" r="3.03"/><circle cx="58.62" cy="324.63" r="3.03"/><circle cx="60.99" cy="325.96" r="3.03"/><circle cx="63.73" cy="327.5" r="3.03"/><circle cx="66.86" cy="329.27" r="3.03"/><circle cx="70.41" cy="331.27" r="3.03"/><circle cx="74.55" cy="333.6" r="3.03"/><circle cx="78.93" cy="336.06" r="3.03"/><circle cx="83.96" cy="338.9" r="3.03"/><circle cx="89.61" cy="342.08" r="3.03"/><circle cx="95.68" cy="345.49" r="3.03"/><circle cx="102.45" cy="349.31" r="3.03"/><circle cx="109.91" cy="353.51" r="3.03"/><circle cx="117.39" cy="357.72" r="3.03"/><circle cx="124.2" cy="361.55" r="3.03"/><circle cx="129.88" cy="364.75" r="3.03"/><circle cx="133.62" cy="366.85" r="3.03"/><circle cx="136.11" cy="368.26" r="3.03"/><circle cx="78.75" cy="317.32" r="3.03"/><circle cx="80.57" cy="318.24" r="3.03"/><circle cx="82.54" cy="319.25" r="3.03"/><circle cx="84.95" cy="320.47" r="3.03"/><circle cx="87.74" cy="321.89" r="3.03"/><circle cx="90.93" cy="323.52" r="3.03"/><circle cx="94.54" cy="325.36" r="3.03"/><circle cx="98.74" cy="327.49" r="3.03"/><circle cx="103.19" cy="329.76" r="3.03"/><circle cx="108.29" cy="332.35" r="3.03"/><circle cx="114" cy="335.26" r="3.03"/><circle cx="120.13" cy="338.38" r="3.03"/><circle cx="126.97" cy="341.86" r="3.03"/><circle cx="134.48" cy="345.69" r="3.03"/><circle cx="142" cy="349.52" r="3.03"/><circle cx="148.83" cy="352.99" r="3.03"/><circle cx="154.51" cy="355.89" r="3.03"/><circle cx="158.25" cy="357.79" r="3.03"/><circle cx="160.75" cy="359.06" r="3.03"/><circle cx="100.38" cy="313.92" r="3.03"/><circle cx="102.19" cy="314.8" r="3.03"/><circle cx="104.15" cy="315.76" r="3.03"/><circle cx="106.55" cy="316.93" r="3.03"/><circle cx="109.33" cy="318.28" r="3.03"/><circle cx="112.5" cy="319.82" r="3.03"/><circle cx="116.08" cy="321.57" r="3.03"/><circle cx="120.25" cy="323.6" r="3.03"/><circle cx="124.64" cy="325.74" r="3.03"/><circle cx="129.68" cy="328.19" r="3.03"/><circle cx="135.31" cy="330.94" r="3.03"/><circle cx="141.34" cy="333.88" r="3.03"/><circle cx="148.04" cy="337.14" r="3.03"/><circle cx="155.39" cy="340.73" r="3.03"/><circle cx="162.72" cy="344.3" r="3.03"/><circle cx="169.37" cy="347.54" r="3.03"/><circle cx="174.89" cy="350.23" r="3.03"/><circle cx="178.51" cy="351.99" r="3.03"/><circle cx="180.93" cy="353.17" r="3.03"/><circle cx="120.01" cy="313.54" r="3.03"/><circle cx="121.81" cy="314.38" r="3.03"/><circle cx="123.77" cy="315.29" r="3.03"/><circle cx="126.15" cy="316.4" r="3.03"/><circle cx="128.91" cy="317.69" r="3.03"/><circle cx="132.05" cy="319.15" r="3.03"/><circle cx="135.6" cy="320.81" r="3.03"/><circle cx="139.72" cy="322.73" r="3.03"/><circle cx="144.06" cy="324.76" r="3.03"/><circle cx="149.03" cy="327.07" r="3.03"/><circle cx="154.58" cy="329.66" r="3.03"/><circle cx="160.51" cy="332.42" r="3.03"/><circle cx="167.1" cy="335.49" r="3.03"/><circle cx="174.3" cy="338.85" r="3.03"/><circle cx="181.47" cy="342.2" r="3.03"/><circle cx="187.96" cy="345.22" r="3.03"/><circle cx="193.34" cy="347.73" r="3.03"/><circle cx="196.87" cy="349.37" r="3.03"/><circle cx="199.21" cy="350.47" r="3.03"/><circle cx="137.69" cy="315.75" r="3.03"/><circle cx="138.72" cy="316.25" r="3.03"/><circle cx="139.84" cy="316.8" r="3.03"/><circle cx="141.19" cy="317.46" r="3.03"/><circle cx="142.74" cy="318.22" r="3.03"/><circle cx="144.5" cy="319.08" r="3.03"/><circle cx="146.47" cy="320.05" r="3.03"/><circle cx="148.74" cy="321.16" r="3.03"/><circle cx="151.11" cy="322.32" r="3.03"/><circle cx="153.79" cy="323.64" r="3.03"/><circle cx="156.75" cy="325.09" r="3.03"/><circle cx="159.88" cy="326.62" r="3.03"/><circle cx="163.3" cy="328.3" r="3.03"/><circle cx="166.99" cy="330.11" r="3.03"/><circle cx="170.61" cy="331.88" r="3.03"/><circle cx="173.84" cy="333.47" r="3.03"/><circle cx="176.48" cy="334.76" r="3.03"/><circle cx="178.2" cy="335.6" r="3.03"/><circle cx="179.33" cy="336.16" r="3.03"/></g><g fill="#1467e6"><circle cx="54.6" cy="320.62" r="3.03"/><circle cx="56.63" cy="321.77" r="3.03"/><circle cx="58.84" cy="323.02" r="3.03"/><circle cx="61.54" cy="324.55" r="3.03"/><circle cx="64.69" cy="326.33" r="3.03"/><circle cx="68.29" cy="328.36" r="3.03"/><circle cx="72.38" cy="330.68" r="3.03"/><circle cx="77.16" cy="333.38" r="3.03"/><circle cx="82.24" cy="336.25" r="3.03"/><circle cx="88.1" cy="339.56" r="3.03"/><circle cx="94.7" cy="343.29" r="3.03"/><circle cx="101.82" cy="347.31" r="3.03"/><circle cx="109.82" cy="351.83" r="3.03"/><circle cx="118.67" cy="356.84" r="3.03"/><circle cx="127.6" cy="361.88" r="3.03"/><circle cx="135.78" cy="366.51" r="3.03"/><circle cx="142.63" cy="370.38" r="3.03"/><circle cx="147.16" cy="372.94" r="3.03"/><circle cx="150.19" cy="374.65" r="3.03"/><circle cx="78.43" cy="314.56" r="3.03"/><circle cx="80.5" cy="315.63" r="3.03"/><circle cx="82.74" cy="316.78" r="3.03"/><circle cx="85.48" cy="318.2" r="3.03"/><circle cx="88.67" cy="319.84" r="3.03"/><circle cx="92.32" cy="321.72" r="3.03"/><circle cx="96.46" cy="323.85" r="3.03"/><circle cx="101.29" cy="326.33" r="3.03"/><circle cx="106.41" cy="328.97" r="3.03"/><circle cx="112.31" cy="332.01" r="3.03"/><circle cx="118.94" cy="335.43" r="3.03"/><circle cx="126.08" cy="339.11" r="3.03"/><circle cx="134.09" cy="343.23" r="3.03"/><circle cx="142.93" cy="347.78" r="3.03"/><circle cx="151.81" cy="352.36" r="3.03"/><circle cx="159.94" cy="356.54" r="3.03"/><circle cx="166.72" cy="360.04" r="3.03"/><circle cx="171.2" cy="362.34" r="3.03"/><circle cx="174.2" cy="363.89" r="3.03"/><circle cx="100.09" cy="310.19" r="3.03"/><circle cx="101.79" cy="311.01" r="3.03"/><circle cx="103.64" cy="311.9" r="3.03"/><circle cx="105.89" cy="312.99" r="3.03"/><circle cx="108.49" cy="314.25" r="3.03"/><circle cx="111.46" cy="315.68" r="3.03"/><circle cx="114.81" cy="317.3" r="3.03"/><circle cx="118.7" cy="319.18" r="3.03"/><circle cx="122.8" cy="321.16" r="3.03"/><circle cx="127.49" cy="323.43" r="3.03"/><circle cx="132.72" cy="325.96" r="3.03"/><circle cx="138.32" cy="328.66" r="3.03"/><circle cx="144.53" cy="331.66" r="3.03"/><circle cx="151.32" cy="334.95" r="3.03"/><circle cx="158.07" cy="338.21" r="3.03"/><circle cx="164.19" cy="341.17" r="3.03"/><circle cx="169.25" cy="343.62" r="3.03"/><circle cx="172.58" cy="345.22" r="3.03"/><circle cx="174.79" cy="346.29" r="3.03"/><circle cx="119.76" cy="307.49" r="3.03"/><circle cx="121.06" cy="308.05" r="3.03"/><circle cx="122.46" cy="308.67" r="3.03"/><circle cx="124.17" cy="309.41" r="3.03"/><circle cx="126.13" cy="310.27" r="3.03"/><circle cx="128.37" cy="311.24" r="3.03"/><circle cx="130.88" cy="312.33" r="3.03"/><circle cx="133.78" cy="313.6" r="3.03"/><circle cx="136.83" cy="314.93" r="3.03"/><circle cx="140.28" cy="316.43" r="3.03"/><circle cx="144.12" cy="318.11" r="3.03"/><circle cx="148.2" cy="319.88" r="3.03"/><circle cx="152.68" cy="321.83" r="3.03"/><circle cx="157.55" cy="323.95" r="3.03"/><circle cx="162.34" cy="326.04" r="3.03"/><circle cx="166.65" cy="327.92" r="3.03"/><circle cx="170.19" cy="329.46" r="3.03"/><circle cx="172.5" cy="330.47" r="3.03"/><circle cx="174.03" cy="331.14" r="3.03"/><circle cx="137.58" cy="303.83" r="3.03"/><circle cx="138.22" cy="304.08" r="3.03"/><circle cx="138.92" cy="304.36" r="3.03"/><circle cx="139.77" cy="304.69" r="3.03"/><circle cx="140.74" cy="305.07" r="3.03"/><circle cx="141.84" cy="305.5" r="3.03"/><circle cx="143.06" cy="305.98" r="3.03"/><circle cx="144.47" cy="306.53" r="3.03"/><circle cx="145.93" cy="307.11" r="3.03"/><circle cx="147.59" cy="307.76" r="3.03"/><circle cx="149.4" cy="308.47" r="3.03"/><circle cx="151.31" cy="309.22" r="3.03"/><circle cx="153.39" cy="310.03" r="3.03"/><circle cx="155.62" cy="310.91" r="3.03"/><circle cx="157.8" cy="311.76" r="3.03"/><circle cx="159.73" cy="312.52" r="3.03"/><circle cx="161.3" cy="313.13" r="3.03"/><circle cx="162.32" cy="313.53" r="3.03"/><circle cx="162.99" cy="313.8" r="3.03"/></g></g>
<g font-size="9.5" text-anchor="middle" fill="#000" stroke="#000" stroke-width="0.25"><text transform="translate(36.7 318.75) scale(.995 1)">0</text><text transform="translate(38.4 339.95) scale(.995 1)">-1</text><text transform="translate(41.9 361.05) scale(.995 1)">-2</text><text transform="translate(45.7 382.05) scale(.995 1)">-3</text><text transform="translate(49.2 403.45) scale(.995 1)">-4</text><text transform="translate(51.6 420.55) scale(.995 1)">0</text><text transform="translate(57.1 429.15) scale(.995 1)">5</text><text transform="translate(65.6 438.6) scale(.995 1)">10</text><text transform="translate(76.6 447.6) scale(.995 1)">15</text><text transform="translate(87.8 456.45) scale(.995 1)">20</text><text transform="translate(98.9 465.45) scale(.995 1)">25</text><text transform="translate(110 474.35) scale(.995 1)">30</text><text transform="translate(121.2 483.3) scale(.995 1)">35</text><text transform="translate(132.35 492.25) scale(.995 1)">40</text><text transform="translate(156.6 492.25) scale(.995 1)">80</text><text transform="translate(168.64 482.05) scale(.995 1)">70</text><text transform="translate(180.7 471.95) scale(.995 1)">60</text><text transform="translate(192.7 461.75) scale(.995 1)">50</text><text transform="translate(204.8 451.55) scale(.995 1)">40</text><text transform="translate(216.8 441.4) scale(.995 1)">30</text><text transform="translate(228.9 431.15) scale(.995 1)">20</text><text transform="translate(240.9 421.05) scale(.995 1)">10</text></g>
<text x="46.6" y="467.2" font-size="13.2" font-weight="bold">φ</text>
<text x="59.1" y="467.4" font-size="12.4" textLength="12.5" lengthAdjust="spacingAndGlyphs">[°]</text>
<text x="209.5" y="469.1" font-size="15.2" font-weight="bold" textLength="7.6" lengthAdjust="spacingAndGlyphs">θ</text>
<text x="220.8" y="469.1" font-size="12.4" textLength="12.5" lengthAdjust="spacingAndGlyphs">[°]</text>
<text x="8.8" y="367.7" font-size="15" font-weight="bold" font-style="italic">v<tspan font-size="9.2" dy="3.4">xz</tspan></text>
<circle cx="24.05" cy="277.8" r="16.15" fill="none" stroke="#000" stroke-width="1.9"/>
<text x="24.05" y="281.8" font-size="10.7" font-weight="bold" text-anchor="middle">C</text>
<path d="M403.16 272.8L403.45 366.43 M403.45 366.43L485.6 411.9 M391.45 277.01L393.74 372.25 M393.74 372.25L476.4 420.24 M379.02 281.48L383.53 378.37 M383.53 378.37L466.62 429.1 M365.8 286.23L372.78 384.81 M372.78 384.81L456.23 438.51 M351.71 291.29L361.46 391.59 M361.46 391.59L445.15 448.55 M336.66 296.7L349.51 398.75 M349.51 398.75L433.33 459.26 M320.55 302.49L336.89 406.31 M336.89 406.31L420.67 470.72 M303.27 308.7L323.52 414.32 M323.52 414.32L407.1 483.02 M403.16 272.8L403.45 366.43 M403.45 366.43L323.52 414.32 M413.72 276.31L412.23 371.29 M412.23 371.29L332.13 421.4 M424.81 280L421.38 376.35 M421.38 376.35L341.19 428.84 M436.49 283.88L430.93 381.63 M430.93 381.63L350.72 436.68 M448.8 287.97L440.89 387.15 M440.89 387.15L360.77 444.94 M461.79 292.29L451.31 392.92 M451.31 392.92L371.39 453.66 M475.52 296.86L462.21 398.95 M462.21 398.95L382.61 462.89 M490.05 301.69L473.63 405.27 M473.63 405.27L394.49 472.66 M505.47 306.82L485.6 411.9 M485.6 411.9L407.1 483.02 M303.27 308.7L403.16 272.8 M403.16 272.8L505.47 306.82 M308.09 333.83L403.23 294.38 M403.23 294.38L500.75 331.78 M312.47 356.69L403.29 314.38 M403.29 314.38L496.46 354.5 M316.47 377.56L403.35 332.96 M403.35 332.96L492.53 375.28 M320.14 396.7L403.4 350.27 M403.4 350.27L488.92 394.34 M323.52 414.32L403.45 366.43 M403.45 366.43L485.6 411.9" fill="none" stroke="#c2c2c2" stroke-width="1.15"/>
<g fill-opacity="0.63" filter="url(#bl)"><g fill="#ebb726"><circle cx="319.5" cy="348.22" r="2.79"/><circle cx="321.37" cy="349.49" r="2.79"/><circle cx="323.4" cy="350.87" r="2.79"/><circle cx="325.89" cy="352.56" r="2.79"/><circle cx="328.77" cy="354.52" r="2.79"/><circle cx="332.07" cy="356.76" r="2.79"/><circle cx="335.8" cy="359.3" r="2.79"/><circle cx="340.15" cy="362.25" r="2.79"/><circle cx="344.77" cy="365.39" r="2.79"/><circle cx="350.06" cy="368.99" r="2.79"/><circle cx="356.01" cy="373.03" r="2.79"/><circle cx="362.41" cy="377.38" r="2.79"/><circle cx="369.56" cy="382.24" r="2.79"/><circle cx="377.44" cy="387.59" r="2.79"/><circle cx="385.34" cy="392.96" r="2.79"/><circle cx="392.55" cy="397.85" r="2.79"/><circle cx="398.55" cy="401.93" r="2.79"/><circle cx="402.51" cy="404.62" r="2.79"/><circle cx="405.15" cy="406.42" r="2.79"/><circle cx="340.57" cy="327.75" r="2.79"/><circle cx="342.39" cy="328.74" r="2.79"/><circle cx="344.36" cy="329.82" r="2.79"/><circle cx="346.77" cy="331.14" r="2.79"/><circle cx="349.57" cy="332.66" r="2.79"/><circle cx="352.76" cy="334.4" r="2.79"/><circle cx="356.37" cy="336.38" r="2.79"/><circle cx="360.58" cy="338.67" r="2.79"/><circle cx="365.03" cy="341.1" r="2.79"/><circle cx="370.14" cy="343.89" r="2.79"/><circle cx="375.87" cy="347.02" r="2.79"/><circle cx="382.01" cy="350.37" r="2.79"/><circle cx="388.87" cy="354.12" r="2.79"/><circle cx="396.41" cy="358.23" r="2.79"/><circle cx="403.96" cy="362.35" r="2.79"/><circle cx="410.82" cy="366.1" r="2.79"/><circle cx="416.54" cy="369.22" r="2.79"/><circle cx="420.3" cy="371.27" r="2.79"/><circle cx="422.81" cy="372.64" r="2.79"/><circle cx="360.87" cy="312.64" r="2.79"/><circle cx="362.83" cy="313.59" r="2.79"/><circle cx="364.94" cy="314.63" r="2.79"/><circle cx="367.53" cy="315.89" r="2.79"/><circle cx="370.53" cy="317.36" r="2.79"/><circle cx="373.96" cy="319.04" r="2.79"/><circle cx="377.85" cy="320.93" r="2.79"/><circle cx="382.36" cy="323.14" r="2.79"/><circle cx="387.15" cy="325.48" r="2.79"/><circle cx="392.64" cy="328.17" r="2.79"/><circle cx="398.8" cy="331.18" r="2.79"/><circle cx="405.41" cy="334.41" r="2.79"/><circle cx="412.78" cy="338.02" r="2.79"/><circle cx="420.9" cy="341.98" r="2.79"/><circle cx="429.02" cy="345.95" r="2.79"/><circle cx="436.41" cy="349.57" r="2.79"/><circle cx="442.56" cy="352.57" r="2.79"/><circle cx="446.61" cy="354.55" r="2.79"/><circle cx="449.31" cy="355.87" r="2.79"/><circle cx="379.86" cy="299.41" r="2.79"/><circle cx="381.82" cy="300.26" r="2.79"/><circle cx="383.96" cy="301.19" r="2.79"/><circle cx="386.56" cy="302.32" r="2.79"/><circle cx="389.57" cy="303.62" r="2.79"/><circle cx="393.02" cy="305.12" r="2.79"/><circle cx="396.92" cy="306.8" r="2.79"/><circle cx="401.45" cy="308.77" r="2.79"/><circle cx="406.25" cy="310.85" r="2.79"/><circle cx="411.74" cy="313.23" r="2.79"/><circle cx="417.9" cy="315.89" r="2.79"/><circle cx="424.5" cy="318.75" r="2.79"/><circle cx="431.85" cy="321.94" r="2.79"/><circle cx="439.92" cy="325.44" r="2.79"/><circle cx="447.99" cy="328.93" r="2.79"/><circle cx="455.32" cy="332.11" r="2.79"/><circle cx="461.42" cy="334.75" r="2.79"/><circle cx="465.42" cy="336.49" r="2.79"/><circle cx="468.1" cy="337.65" r="2.79"/><circle cx="397.57" cy="288.17" r="2.79"/><circle cx="398.54" cy="288.53" r="2.79"/><circle cx="399.59" cy="288.92" r="2.79"/><circle cx="400.86" cy="289.39" r="2.79"/><circle cx="402.32" cy="289.94" r="2.79"/><circle cx="403.98" cy="290.56" r="2.79"/><circle cx="405.83" cy="291.25" r="2.79"/><circle cx="407.97" cy="292.05" r="2.79"/><circle cx="410.2" cy="292.89" r="2.79"/><circle cx="412.73" cy="293.83" r="2.79"/><circle cx="415.52" cy="294.87" r="2.79"/><circle cx="418.46" cy="295.97" r="2.79"/><circle cx="421.68" cy="297.18" r="2.79"/><circle cx="425.16" cy="298.48" r="2.79"/><circle cx="428.57" cy="299.75" r="2.79"/><circle cx="431.61" cy="300.89" r="2.79"/><circle cx="434.09" cy="301.82" r="2.79"/><circle cx="435.71" cy="302.42" r="2.79"/><circle cx="436.78" cy="302.82" r="2.79"/></g><g fill="#17882c"><circle cx="318.76" cy="343.99" r="2.79"/><circle cx="320.55" cy="345.16" r="2.79"/><circle cx="322.49" cy="346.44" r="2.79"/><circle cx="324.86" cy="347.99" r="2.79"/><circle cx="327.6" cy="349.79" r="2.79"/><circle cx="330.74" cy="351.85" r="2.79"/><circle cx="334.3" cy="354.19" r="2.79"/><circle cx="338.44" cy="356.9" r="2.79"/><circle cx="342.83" cy="359.78" r="2.79"/><circle cx="347.86" cy="363.08" r="2.79"/><circle cx="353.5" cy="366.79" r="2.79"/><circle cx="359.57" cy="370.76" r="2.79"/><circle cx="366.34" cy="375.21" r="2.79"/><circle cx="373.79" cy="380.09" r="2.79"/><circle cx="381.24" cy="384.99" r="2.79"/><circle cx="388.04" cy="389.44" r="2.79"/><circle cx="393.69" cy="393.15" r="2.79"/><circle cx="397.42" cy="395.6" r="2.79"/><circle cx="399.9" cy="397.23" r="2.79"/><circle cx="340.29" cy="325.51" r="2.79"/><circle cx="342.13" cy="326.54" r="2.79"/><circle cx="344.14" cy="327.66" r="2.79"/><circle cx="346.58" cy="329.02" r="2.79"/><circle cx="349.42" cy="330.61" r="2.79"/><circle cx="352.66" cy="332.42" r="2.79"/><circle cx="356.32" cy="334.46" r="2.79"/><circle cx="360.59" cy="336.85" r="2.79"/><circle cx="365.11" cy="339.37" r="2.79"/><circle cx="370.29" cy="342.27" r="2.79"/><circle cx="376.1" cy="345.51" r="2.79"/><circle cx="382.34" cy="349" r="2.79"/><circle cx="389.3" cy="352.88" r="2.79"/><circle cx="396.95" cy="357.16" r="2.79"/><circle cx="404.6" cy="361.43" r="2.79"/><circle cx="411.57" cy="365.32" r="2.79"/><circle cx="417.37" cy="368.56" r="2.79"/><circle cx="421.18" cy="370.69" r="2.79"/><circle cx="423.73" cy="372.11" r="2.79"/><circle cx="360.69" cy="310.41" r="2.79"/><circle cx="362.55" cy="311.29" r="2.79"/><circle cx="364.57" cy="312.25" r="2.79"/><circle cx="367.03" cy="313.42" r="2.79"/><circle cx="369.89" cy="314.77" r="2.79"/><circle cx="373.15" cy="316.32" r="2.79"/><circle cx="376.84" cy="318.07" r="2.79"/><circle cx="381.13" cy="320.11" r="2.79"/><circle cx="385.67" cy="322.27" r="2.79"/><circle cx="390.88" cy="324.74" r="2.79"/><circle cx="396.71" cy="327.5" r="2.79"/><circle cx="402.96" cy="330.47" r="2.79"/><circle cx="409.92" cy="333.78" r="2.79"/><circle cx="417.57" cy="337.41" r="2.79"/><circle cx="425.21" cy="341.04" r="2.79"/><circle cx="432.15" cy="344.33" r="2.79"/><circle cx="437.93" cy="347.07" r="2.79"/><circle cx="441.72" cy="348.87" r="2.79"/><circle cx="444.25" cy="350.08" r="2.79"/><circle cx="379.76" cy="297.21" r="2.79"/><circle cx="381.64" cy="298" r="2.79"/><circle cx="383.68" cy="298.85" r="2.79"/><circle cx="386.18" cy="299.9" r="2.79"/><circle cx="389.07" cy="301.11" r="2.79"/><circle cx="392.37" cy="302.49" r="2.79"/><circle cx="396.09" cy="304.06" r="2.79"/><circle cx="400.43" cy="305.87" r="2.79"/><circle cx="405.01" cy="307.79" r="2.79"/><circle cx="410.25" cy="309.99" r="2.79"/><circle cx="416.12" cy="312.45" r="2.79"/><circle cx="422.41" cy="315.09" r="2.79"/><circle cx="429.4" cy="318.02" r="2.79"/><circle cx="437.07" cy="321.24" r="2.79"/><circle cx="444.73" cy="324.45" r="2.79"/><circle cx="451.68" cy="327.36" r="2.79"/><circle cx="457.44" cy="329.78" r="2.79"/><circle cx="461.23" cy="331.37" r="2.79"/><circle cx="463.76" cy="332.43" r="2.79"/><circle cx="397.54" cy="285.78" r="2.79"/><circle cx="398.64" cy="286.16" r="2.79"/><circle cx="399.83" cy="286.58" r="2.79"/><circle cx="401.27" cy="287.09" r="2.79"/><circle cx="402.93" cy="287.68" r="2.79"/><circle cx="404.82" cy="288.34" r="2.79"/><circle cx="406.93" cy="289.08" r="2.79"/><circle cx="409.37" cy="289.94" r="2.79"/><circle cx="411.92" cy="290.84" r="2.79"/><circle cx="414.81" cy="291.86" r="2.79"/><circle cx="418.01" cy="292.98" r="2.79"/><circle cx="421.4" cy="294.17" r="2.79"/><circle cx="425.11" cy="295.48" r="2.79"/><circle cx="429.13" cy="296.9" r="2.79"/><circle cx="433.07" cy="298.28" r="2.79"/><circle cx="436.6" cy="299.53" r="2.79"/><circle cx="439.49" cy="300.54" r="2.79"/><circle cx="441.37" cy="301.21" r="2.79"/><circle cx="442.62" cy="301.64" r="2.79"/></g><g fill="#1467e6"><circle cx="320.11" cy="351.72" r="2.79"/><circle cx="322.13" cy="353.16" r="2.79"/><circle cx="324.32" cy="354.73" r="2.79"/><circle cx="327.01" cy="356.64" r="2.79"/><circle cx="330.12" cy="358.87" r="2.79"/><circle cx="333.69" cy="361.41" r="2.79"/><circle cx="337.74" cy="364.3" r="2.79"/><circle cx="342.46" cy="367.67" r="2.79"/><circle cx="347.47" cy="371.24" r="2.79"/><circle cx="353.23" cy="375.35" r="2.79"/><circle cx="359.71" cy="379.98" r="2.79"/><circle cx="366.69" cy="384.96" r="2.79"/><circle cx="374.51" cy="390.53" r="2.79"/><circle cx="383.14" cy="396.69" r="2.79"/><circle cx="391.81" cy="402.88" r="2.79"/><circle cx="399.73" cy="408.53" r="2.79"/><circle cx="406.35" cy="413.25" r="2.79"/><circle cx="410.72" cy="416.37" r="2.79"/><circle cx="413.64" cy="418.45" r="2.79"/><circle cx="340.88" cy="330.2" r="2.79"/><circle cx="342.95" cy="331.39" r="2.79"/><circle cx="345.2" cy="332.69" r="2.79"/><circle cx="347.95" cy="334.27" r="2.79"/><circle cx="351.14" cy="336.11" r="2.79"/><circle cx="354.8" cy="338.22" r="2.79"/><circle cx="358.95" cy="340.61" r="2.79"/><circle cx="363.79" cy="343.4" r="2.79"/><circle cx="368.93" cy="346.36" r="2.79"/><circle cx="374.84" cy="349.76" r="2.79"/><circle cx="381.49" cy="353.59" r="2.79"/><circle cx="388.66" cy="357.72" r="2.79"/><circle cx="396.68" cy="362.35" r="2.79"/><circle cx="405.55" cy="367.45" r="2.79"/><circle cx="414.46" cy="372.59" r="2.79"/><circle cx="422.61" cy="377.28" r="2.79"/><circle cx="429.42" cy="381.21" r="2.79"/><circle cx="433.91" cy="383.8" r="2.79"/><circle cx="436.92" cy="385.53" r="2.79"/><circle cx="361.06" cy="314.85" r="2.79"/><circle cx="362.78" cy="315.67" r="2.79"/><circle cx="364.65" cy="316.56" r="2.79"/><circle cx="366.93" cy="317.64" r="2.79"/><circle cx="369.56" cy="318.9" r="2.79"/><circle cx="372.57" cy="320.33" r="2.79"/><circle cx="375.97" cy="321.95" r="2.79"/><circle cx="379.92" cy="323.83" r="2.79"/><circle cx="384.09" cy="325.82" r="2.79"/><circle cx="388.86" cy="328.09" r="2.79"/><circle cx="394.19" cy="330.63" r="2.79"/><circle cx="399.9" cy="333.35" r="2.79"/><circle cx="406.24" cy="336.37" r="2.79"/><circle cx="413.19" cy="339.68" r="2.79"/><circle cx="420.12" cy="342.98" r="2.79"/><circle cx="426.4" cy="345.97" r="2.79"/><circle cx="431.6" cy="348.45" r="2.79"/><circle cx="435.02" cy="350.08" r="2.79"/><circle cx="437.3" cy="351.16" r="2.79"/><circle cx="379.95" cy="301.38" r="2.79"/><circle cx="381.28" cy="301.96" r="2.79"/><circle cx="382.73" cy="302.58" r="2.79"/><circle cx="384.48" cy="303.34" r="2.79"/><circle cx="386.5" cy="304.21" r="2.79"/><circle cx="388.81" cy="305.21" r="2.79"/><circle cx="391.39" cy="306.33" r="2.79"/><circle cx="394.38" cy="307.62" r="2.79"/><circle cx="397.52" cy="308.97" r="2.79"/><circle cx="401.09" cy="310.52" r="2.79"/><circle cx="405.06" cy="312.23" r="2.79"/><circle cx="409.27" cy="314.05" r="2.79"/><circle cx="413.91" cy="316.05" r="2.79"/><circle cx="418.94" cy="318.23" r="2.79"/><circle cx="423.92" cy="320.37" r="2.79"/><circle cx="428.38" cy="322.3" r="2.79"/><circle cx="432.06" cy="323.89" r="2.79"/><circle cx="434.46" cy="324.93" r="2.79"/><circle cx="436.05" cy="325.62" r="2.79"/><circle cx="397.6" cy="290.32" r="2.79"/><circle cx="398.27" cy="290.56" r="2.79"/><circle cx="399" cy="290.81" r="2.79"/><circle cx="399.88" cy="291.12" r="2.79"/><circle cx="400.88" cy="291.48" r="2.79"/><circle cx="402.02" cy="291.88" r="2.79"/><circle cx="403.3" cy="292.33" r="2.79"/><circle cx="404.76" cy="292.85" r="2.79"/><circle cx="406.28" cy="293.39" r="2.79"/><circle cx="408" cy="293.99" r="2.79"/><circle cx="409.89" cy="294.66" r="2.79"/><circle cx="411.88" cy="295.36" r="2.79"/><circle cx="414.05" cy="296.13" r="2.79"/><circle cx="416.38" cy="296.95" r="2.79"/><circle cx="418.65" cy="297.75" r="2.79"/><circle cx="420.66" cy="298.46" r="2.79"/><circle cx="422.3" cy="299.04" r="2.79"/><circle cx="423.37" cy="299.42" r="2.79"/><circle cx="424.07" cy="299.67" r="2.79"/></g></g>
<g font-size="9.5" text-anchor="middle" fill="#000" stroke="#000" stroke-width="0.25"><text transform="translate(299.1 319.55) scale(.995 1)">0</text><text transform="translate(300.8 340.75) scale(.995 1)">-1</text><text transform="translate(304.3 361.85) scale(.995 1)">-2</text><text transform="translate(308.1 382.85) scale(.995 1)">-3</text><text transform="translate(311.6 404.25) scale(.995 1)">-4</text><text transform="translate(314 421.35) scale(.995 1)">0</text><text transform="translate(319.5 429.95) scale(.995 1)">5</text><text transform="translate(328 439.4) scale(.995 1)">10</text><text transform="translate(339 448.4) scale(.995 1)">15</text><text transform="translate(350.2 457.25) scale(.995 1)">20</text><text transform="translate(361.3 466.25) scale(.995 1)">25</text><text transform="translate(372.4 475.15) scale(.995 1)">30</text><text transform="translate(383.6 484.1) scale(.995 1)">35</text><text transform="translate(394.75 493.05) scale(.995 1)">40</text><text transform="translate(419 493.05) scale(.995 1)">80</text><text transform="translate(431.04 482.85) scale(.995 1)">70</text><text transform="translate(443.1 472.75) scale(.995 1)">60</text><text transform="translate(455.1 462.55) scale(.995 1)">50</text><text transform="translate(467.2 452.35) scale(.995 1)">40</text><text transform="translate(479.2 442.2) scale(.995 1)">30</text><text transform="translate(491.3 431.95) scale(.995 1)">20</text><text transform="translate(503.3 421.85) scale(.995 1)">10</text></g>
<text x="310.5" y="468.2" font-size="13.2" font-weight="bold">φ</text>
<text x="323" y="468.4" font-size="12.4" textLength="12.5" lengthAdjust="spacingAndGlyphs">[°]</text>
<text x="473.3" y="469.9" font-size="15.2" font-weight="bold" textLength="7.6" lengthAdjust="spacingAndGlyphs">θ</text>
<text x="484.6" y="469.9" font-size="12.4" textLength="12.5" lengthAdjust="spacingAndGlyphs">[°]</text>
<text x="271.2" y="368.5" font-size="15" font-weight="bold" font-style="italic">v<tspan font-size="9.2" dy="3.4">zx</tspan></text>
<circle cx="280.5" cy="277.8" r="16.15" fill="none" stroke="#000" stroke-width="1.9"/>
<text x="280.5" y="281.8" font-size="10.7" font-weight="bold" text-anchor="middle">D</text>
<path d="M147.92 530.69L147.9 622.17 M147.9 622.17L227.06 668.21 M136.23 534.72L138.24 627.75 M138.24 627.75L217.74 676.33 M123.81 538.99L128.09 633.61 M128.09 633.61L207.85 684.95 M110.61 543.54L117.42 639.78 M117.42 639.78L197.33 694.12 M96.54 548.38L106.18 646.27 M106.18 646.27L186.12 703.88 M81.52 553.55L94.33 653.12 M94.33 653.12L174.15 714.31 M65.44 559.09L81.8 660.36 M81.8 660.36L161.34 725.47 M48.19 565.03L68.56 668.01 M68.56 668.01L147.6 737.44 M147.92 530.69L147.9 622.17 M147.9 622.17L68.56 668.01 M158.09 534.22L156.3 627.06 M156.3 627.06L76.63 675.1 M168.8 537.93L165.07 632.16 M165.07 632.16L85.14 682.58 M180.1 541.84L174.24 637.49 M174.24 637.49L94.12 690.47 M192.05 545.98L183.83 643.06 M183.83 643.06L103.61 698.8 M204.69 550.36L193.87 648.9 M193.87 648.9L113.65 707.62 M218.09 555.01L204.4 655.03 M204.4 655.03L124.29 716.96 M232.32 559.94L215.45 661.45 M215.45 661.45L135.58 726.88 M247.46 565.18L227.06 668.21 M227.06 668.21L147.6 737.44 M48.19 565.03L147.92 530.69 M147.92 530.69L247.46 565.18 M53.06 589.65L147.92 551.87 M147.92 551.87L242.58 589.82 M57.48 611.98L147.91 571.44 M147.91 571.44L238.16 612.16 M61.5 632.32L147.91 589.59 M147.91 589.59L234.13 632.51 M65.18 650.93L147.9 606.45 M147.9 606.45L230.44 651.12 M68.56 668.01L147.9 622.17 M147.9 622.17L227.06 668.21" fill="none" stroke="#c2c2c2" stroke-width="1.15"/>
<g fill-opacity="0.63" filter="url(#bl)"><g fill="#ebb726"><circle cx="61.13" cy="585.2" r="2.67"/><circle cx="62.91" cy="586.24" r="2.67"/><circle cx="64.84" cy="587.37" r="2.67"/><circle cx="67.21" cy="588.76" r="2.67"/><circle cx="69.97" cy="590.37" r="2.67"/><circle cx="73.13" cy="592.22" r="2.67"/><circle cx="76.73" cy="594.33" r="2.67"/><circle cx="80.93" cy="596.79" r="2.67"/><circle cx="85.41" cy="599.4" r="2.67"/><circle cx="90.56" cy="602.42" r="2.67"/><circle cx="96.39" cy="605.83" r="2.67"/><circle cx="102.68" cy="609.51" r="2.67"/><circle cx="109.76" cy="613.65" r="2.67"/><circle cx="117.61" cy="618.25" r="2.67"/><circle cx="125.54" cy="622.88" r="2.67"/><circle cx="132.81" cy="627.14" r="2.67"/><circle cx="138.92" cy="630.71" r="2.67"/><circle cx="142.96" cy="633.08" r="2.67"/><circle cx="145.66" cy="634.66" r="2.67"/><circle cx="83.87" cy="571.89" r="2.67"/><circle cx="85.62" cy="572.8" r="2.67"/><circle cx="87.52" cy="573.8" r="2.67"/><circle cx="89.85" cy="575.02" r="2.67"/><circle cx="92.55" cy="576.44" r="2.67"/><circle cx="95.64" cy="578.06" r="2.67"/><circle cx="99.14" cy="579.9" r="2.67"/><circle cx="103.22" cy="582.04" r="2.67"/><circle cx="107.55" cy="584.31" r="2.67"/><circle cx="112.52" cy="586.92" r="2.67"/><circle cx="118.12" cy="589.86" r="2.67"/><circle cx="124.14" cy="593.02" r="2.67"/><circle cx="130.88" cy="596.56" r="2.67"/><circle cx="138.32" cy="600.46" r="2.67"/><circle cx="145.78" cy="604.38" r="2.67"/><circle cx="152.6" cy="607.96" r="2.67"/><circle cx="158.29" cy="610.94" r="2.67"/><circle cx="162.04" cy="612.91" r="2.67"/><circle cx="164.55" cy="614.23" r="2.67"/><circle cx="105.24" cy="564.32" r="2.67"/><circle cx="107.11" cy="565.23" r="2.67"/><circle cx="109.14" cy="566.22" r="2.67"/><circle cx="111.63" cy="567.43" r="2.67"/><circle cx="114.51" cy="568.83" r="2.67"/><circle cx="117.82" cy="570.44" r="2.67"/><circle cx="121.56" cy="572.26" r="2.67"/><circle cx="125.92" cy="574.38" r="2.67"/><circle cx="130.55" cy="576.63" r="2.67"/><circle cx="135.86" cy="579.21" r="2.67"/><circle cx="141.83" cy="582.11" r="2.67"/><circle cx="148.26" cy="585.24" r="2.67"/><circle cx="155.45" cy="588.74" r="2.67"/><circle cx="163.38" cy="592.59" r="2.67"/><circle cx="171.34" cy="596.46" r="2.67"/><circle cx="178.6" cy="599.99" r="2.67"/><circle cx="184.66" cy="602.94" r="2.67"/><circle cx="188.66" cy="604.88" r="2.67"/><circle cx="191.33" cy="606.18" r="2.67"/><circle cx="124.68" cy="558.09" r="2.67"/><circle cx="126.55" cy="558.91" r="2.67"/><circle cx="128.58" cy="559.8" r="2.67"/><circle cx="131.07" cy="560.89" r="2.67"/><circle cx="133.95" cy="562.15" r="2.67"/><circle cx="137.24" cy="563.59" r="2.67"/><circle cx="140.97" cy="565.22" r="2.67"/><circle cx="145.31" cy="567.12" r="2.67"/><circle cx="149.91" cy="569.13" r="2.67"/><circle cx="155.19" cy="571.44" r="2.67"/><circle cx="161.11" cy="574.03" r="2.67"/><circle cx="167.47" cy="576.81" r="2.67"/><circle cx="174.57" cy="579.91" r="2.67"/><circle cx="182.39" cy="583.33" r="2.67"/><circle cx="190.22" cy="586.75" r="2.67"/><circle cx="197.35" cy="589.87" r="2.67"/><circle cx="203.28" cy="592.47" r="2.67"/><circle cx="207.19" cy="594.18" r="2.67"/><circle cx="209.8" cy="595.32" r="2.67"/><circle cx="142.37" cy="552.63" r="2.67"/><circle cx="143.29" cy="552.98" r="2.67"/><circle cx="144.28" cy="553.37" r="2.67"/><circle cx="145.49" cy="553.83" r="2.67"/><circle cx="146.87" cy="554.36" r="2.67"/><circle cx="148.44" cy="554.97" r="2.67"/><circle cx="150.2" cy="555.64" r="2.67"/><circle cx="152.23" cy="556.42" r="2.67"/><circle cx="154.35" cy="557.24" r="2.67"/><circle cx="156.75" cy="558.16" r="2.67"/><circle cx="159.41" cy="559.18" r="2.67"/><circle cx="162.21" cy="560.26" r="2.67"/><circle cx="165.28" cy="561.44" r="2.67"/><circle cx="168.59" cy="562.71" r="2.67"/><circle cx="171.85" cy="563.96" r="2.67"/><circle cx="174.75" cy="565.08" r="2.67"/><circle cx="177.12" cy="565.99" r="2.67"/><circle cx="178.67" cy="566.59" r="2.67"/><circle cx="179.69" cy="566.98" r="2.67"/></g><g fill="#17882c"><circle cx="62.4" cy="592.31" r="2.67"/><circle cx="64.08" cy="593.35" r="2.67"/><circle cx="65.9" cy="594.49" r="2.67"/><circle cx="68.14" cy="595.87" r="2.67"/><circle cx="70.73" cy="597.48" r="2.67"/><circle cx="73.7" cy="599.33" r="2.67"/><circle cx="77.07" cy="601.42" r="2.67"/><circle cx="81" cy="603.86" r="2.67"/><circle cx="85.17" cy="606.45" r="2.67"/><circle cx="89.97" cy="609.44" r="2.67"/><circle cx="95.38" cy="612.79" r="2.67"/><circle cx="101.21" cy="616.41" r="2.67"/><circle cx="107.74" cy="620.47" r="2.67"/><circle cx="114.95" cy="624.95" r="2.67"/><circle cx="122.21" cy="629.46" r="2.67"/><circle cx="128.85" cy="633.58" r="2.67"/><circle cx="134.4" cy="637.03" r="2.67"/><circle cx="138.07" cy="639.31" r="2.67"/><circle cx="140.52" cy="640.83" r="2.67"/><circle cx="84.69" cy="578.23" r="2.67"/><circle cx="86.45" cy="579.26" r="2.67"/><circle cx="88.36" cy="580.38" r="2.67"/><circle cx="90.69" cy="581.74" r="2.67"/><circle cx="93.39" cy="583.32" r="2.67"/><circle cx="96.49" cy="585.14" r="2.67"/><circle cx="99.99" cy="587.19" r="2.67"/><circle cx="104.07" cy="589.58" r="2.67"/><circle cx="108.4" cy="592.11" r="2.67"/><circle cx="113.37" cy="595.02" r="2.67"/><circle cx="118.95" cy="598.28" r="2.67"/><circle cx="124.95" cy="601.79" r="2.67"/><circle cx="131.66" cy="605.72" r="2.67"/><circle cx="139.05" cy="610.04" r="2.67"/><circle cx="146.45" cy="614.38" r="2.67"/><circle cx="153.2" cy="618.33" r="2.67"/><circle cx="158.83" cy="621.62" r="2.67"/><circle cx="162.54" cy="623.79" r="2.67"/><circle cx="165.02" cy="625.24" r="2.67"/><circle cx="105.77" cy="570.68" r="2.67"/><circle cx="107.54" cy="571.64" r="2.67"/><circle cx="109.46" cy="572.68" r="2.67"/><circle cx="111.79" cy="573.96" r="2.67"/><circle cx="114.51" cy="575.43" r="2.67"/><circle cx="117.6" cy="577.12" r="2.67"/><circle cx="121.11" cy="579.03" r="2.67"/><circle cx="125.18" cy="581.26" r="2.67"/><circle cx="129.49" cy="583.61" r="2.67"/><circle cx="134.44" cy="586.3" r="2.67"/><circle cx="139.98" cy="589.32" r="2.67"/><circle cx="145.92" cy="592.56" r="2.67"/><circle cx="152.54" cy="596.17" r="2.67"/><circle cx="159.82" cy="600.14" r="2.67"/><circle cx="167.09" cy="604.1" r="2.67"/><circle cx="173.7" cy="607.7" r="2.67"/><circle cx="179.2" cy="610.7" r="2.67"/><circle cx="182.81" cy="612.67" r="2.67"/><circle cx="185.22" cy="613.99" r="2.67"/><circle cx="125.01" cy="565.48" r="2.67"/><circle cx="126.77" cy="566.28" r="2.67"/><circle cx="128.69" cy="567.15" r="2.67"/><circle cx="131.03" cy="568.21" r="2.67"/><circle cx="133.74" cy="569.44" r="2.67"/><circle cx="136.83" cy="570.84" r="2.67"/><circle cx="140.33" cy="572.43" r="2.67"/><circle cx="144.4" cy="574.28" r="2.67"/><circle cx="148.71" cy="576.23" r="2.67"/><circle cx="153.64" cy="578.47" r="2.67"/><circle cx="159.17" cy="580.98" r="2.67"/><circle cx="165.09" cy="583.66" r="2.67"/><circle cx="171.69" cy="586.66" r="2.67"/><circle cx="178.94" cy="589.95" r="2.67"/><circle cx="186.18" cy="593.23" r="2.67"/><circle cx="192.76" cy="596.22" r="2.67"/><circle cx="198.23" cy="598.7" r="2.67"/><circle cx="201.83" cy="600.33" r="2.67"/><circle cx="204.23" cy="601.42" r="2.67"/><circle cx="142.45" cy="560.36" r="2.67"/><circle cx="143.47" cy="560.81" r="2.67"/><circle cx="144.58" cy="561.3" r="2.67"/><circle cx="145.92" cy="561.89" r="2.67"/><circle cx="147.47" cy="562.57" r="2.67"/><circle cx="149.22" cy="563.34" r="2.67"/><circle cx="151.18" cy="564.2" r="2.67"/><circle cx="153.45" cy="565.2" r="2.67"/><circle cx="155.82" cy="566.24" r="2.67"/><circle cx="158.51" cy="567.42" r="2.67"/><circle cx="161.48" cy="568.72" r="2.67"/><circle cx="164.63" cy="570.11" r="2.67"/><circle cx="168.08" cy="571.62" r="2.67"/><circle cx="171.81" cy="573.26" r="2.67"/><circle cx="175.47" cy="574.87" r="2.67"/><circle cx="178.75" cy="576.31" r="2.67"/><circle cx="181.43" cy="577.49" r="2.67"/><circle cx="183.18" cy="578.26" r="2.67"/><circle cx="184.34" cy="578.76" r="2.67"/></g><g fill="#1467e6"><circle cx="60.15" cy="579.78" r="2.67"/><circle cx="62.09" cy="580.87" r="2.67"/><circle cx="64.2" cy="582.05" r="2.67"/><circle cx="66.78" cy="583.51" r="2.67"/><circle cx="69.79" cy="585.2" r="2.67"/><circle cx="73.26" cy="587.15" r="2.67"/><circle cx="77.2" cy="589.37" r="2.67"/><circle cx="81.82" cy="591.96" r="2.67"/><circle cx="86.75" cy="594.74" r="2.67"/><circle cx="92.46" cy="597.95" r="2.67"/><circle cx="98.92" cy="601.59" r="2.67"/><circle cx="105.94" cy="605.53" r="2.67"/><circle cx="113.86" cy="609.99" r="2.67"/><circle cx="122.69" cy="614.96" r="2.67"/><circle cx="131.66" cy="620" r="2.67"/><circle cx="139.93" cy="624.66" r="2.67"/><circle cx="146.9" cy="628.58" r="2.67"/><circle cx="151.53" cy="631.18" r="2.67"/><circle cx="154.64" cy="632.93" r="2.67"/><circle cx="83.25" cy="567.02" r="2.67"/><circle cx="85.26" cy="568.04" r="2.67"/><circle cx="87.44" cy="569.14" r="2.67"/><circle cx="90.12" cy="570.5" r="2.67"/><circle cx="93.24" cy="572.08" r="2.67"/><circle cx="96.81" cy="573.89" r="2.67"/><circle cx="100.88" cy="575.95" r="2.67"/><circle cx="105.64" cy="578.37" r="2.67"/><circle cx="110.71" cy="580.94" r="2.67"/><circle cx="116.57" cy="583.9" r="2.67"/><circle cx="123.18" cy="587.26" r="2.67"/><circle cx="130.34" cy="590.88" r="2.67"/><circle cx="138.4" cy="594.97" r="2.67"/><circle cx="147.36" cy="599.51" r="2.67"/><circle cx="156.42" cy="604.1" r="2.67"/><circle cx="164.75" cy="608.32" r="2.67"/><circle cx="171.75" cy="611.87" r="2.67"/><circle cx="176.38" cy="614.22" r="2.67"/><circle cx="179.49" cy="615.79" r="2.67"/><circle cx="104.78" cy="558.94" r="2.67"/><circle cx="106.46" cy="559.7" r="2.67"/><circle cx="108.27" cy="560.53" r="2.67"/><circle cx="110.49" cy="561.55" r="2.67"/><circle cx="113.06" cy="562.72" r="2.67"/><circle cx="116" cy="564.07" r="2.67"/><circle cx="119.32" cy="565.58" r="2.67"/><circle cx="123.18" cy="567.35" r="2.67"/><circle cx="127.27" cy="569.22" r="2.67"/><circle cx="131.95" cy="571.36" r="2.67"/><circle cx="137.2" cy="573.76" r="2.67"/><circle cx="142.83" cy="576.33" r="2.67"/><circle cx="149.1" cy="579.2" r="2.67"/><circle cx="155.99" cy="582.35" r="2.67"/><circle cx="162.87" cy="585.49" r="2.67"/><circle cx="169.13" cy="588.36" r="2.67"/><circle cx="174.33" cy="590.73" r="2.67"/><circle cx="177.75" cy="592.3" r="2.67"/><circle cx="180.04" cy="593.34" r="2.67"/><circle cx="124.42" cy="552.47" r="2.67"/><circle cx="125.71" cy="552.99" r="2.67"/><circle cx="127.1" cy="553.57" r="2.67"/><circle cx="128.8" cy="554.26" r="2.67"/><circle cx="130.76" cy="555.07" r="2.67"/><circle cx="132.99" cy="555.98" r="2.67"/><circle cx="135.5" cy="557.01" r="2.67"/><circle cx="138.4" cy="558.2" r="2.67"/><circle cx="141.45" cy="559.45" r="2.67"/><circle cx="144.92" cy="560.87" r="2.67"/><circle cx="148.78" cy="562.46" r="2.67"/><circle cx="152.89" cy="564.14" r="2.67"/><circle cx="157.42" cy="566" r="2.67"/><circle cx="162.36" cy="568.03" r="2.67"/><circle cx="167.23" cy="570.03" r="2.67"/><circle cx="171.62" cy="571.83" r="2.67"/><circle cx="175.24" cy="573.31" r="2.67"/><circle cx="177.61" cy="574.28" r="2.67"/><circle cx="179.18" cy="574.93" r="2.67"/><circle cx="142.31" cy="546.78" r="2.67"/><circle cx="142.95" cy="547.02" r="2.67"/><circle cx="143.65" cy="547.29" r="2.67"/><circle cx="144.5" cy="547.6" r="2.67"/><circle cx="145.47" cy="547.97" r="2.67"/><circle cx="146.57" cy="548.38" r="2.67"/><circle cx="147.79" cy="548.84" r="2.67"/><circle cx="149.2" cy="549.37" r="2.67"/><circle cx="150.67" cy="549.92" r="2.67"/><circle cx="152.33" cy="550.55" r="2.67"/><circle cx="154.15" cy="551.23" r="2.67"/><circle cx="156.07" cy="551.95" r="2.67"/><circle cx="158.16" cy="552.74" r="2.67"/><circle cx="160.41" cy="553.58" r="2.67"/><circle cx="162.6" cy="554.41" r="2.67"/><circle cx="164.55" cy="555.14" r="2.67"/><circle cx="166.13" cy="555.74" r="2.67"/><circle cx="167.16" cy="556.12" r="2.67"/><circle cx="167.84" cy="556.38" r="2.67"/></g></g>
<g font-size="9.5" text-anchor="middle" fill="#000" stroke="#000" stroke-width="0.25"><text transform="translate(38.2 574.45) scale(.995 1)">0</text><text transform="translate(39.9 595.65) scale(.995 1)">-1</text><text transform="translate(43.4 616.75) scale(.995 1)">-2</text><text transform="translate(47.2 637.75) scale(.995 1)">-3</text><text transform="translate(50.7 659.15) scale(.995 1)">-4</text><text transform="translate(53.1 676.25) scale(.995 1)">0</text><text transform="translate(58.6 684.85) scale(.995 1)">5</text><text transform="translate(67.1 694.3) scale(.995 1)">10</text><text transform="translate(78.1 703.3) scale(.995 1)">15</text><text transform="translate(89.3 712.15) scale(.995 1)">20</text><text transform="translate(100.4 721.15) scale(.995 1)">25</text><text transform="translate(111.5 730.05) scale(.995 1)">30</text><text transform="translate(122.7 739) scale(.995 1)">35</text><text transform="translate(133.85 747.95) scale(.995 1)">40</text><text transform="translate(158.1 747.95) scale(.995 1)">80</text><text transform="translate(170.14 737.75) scale(.995 1)">70</text><text transform="translate(182.2 727.65) scale(.995 1)">60</text><text transform="translate(194.2 717.45) scale(.995 1)">50</text><text transform="translate(206.3 707.25) scale(.995 1)">40</text><text transform="translate(218.3 697.1) scale(.995 1)">30</text><text transform="translate(230.4 686.85) scale(.995 1)">20</text><text transform="translate(242.4 676.75) scale(.995 1)">10</text></g>
<text x="46.6" y="726.3" font-size="13.2" font-weight="bold">φ</text>
<text x="59.1" y="726.5" font-size="12.4" textLength="12.5" lengthAdjust="spacingAndGlyphs">[°]</text>
<text x="209.5" y="728" font-size="15.2" font-weight="bold" textLength="7.6" lengthAdjust="spacingAndGlyphs">θ</text>
<text x="220.8" y="728" font-size="12.4" textLength="12.5" lengthAdjust="spacingAndGlyphs">[°]</text>
<text x="10.3" y="623.4" font-size="15" font-weight="bold" font-style="italic">v<tspan font-size="9.2" dy="3.4">zy</tspan></text>
<circle cx="25.2" cy="533.1" r="16.15" fill="none" stroke="#000" stroke-width="1.9"/>
<text x="25.2" y="537.1" font-size="10.7" font-weight="bold" text-anchor="middle">E</text>
<path d="M403.52 527.46L403.79 623.48 M403.79 623.48L488.28 670.52 M391.55 532.33L393.57 629.66 M393.57 629.66L478.46 678.88 M378.96 537.43L382.91 636.1 M382.91 636.1L468.14 687.66 M365.72 542.81L371.78 642.84 M371.78 642.84L457.28 696.89 M351.78 548.47L360.14 649.87 M360.14 649.87L445.85 706.62 M337.06 554.45L347.97 657.23 M347.97 657.23L433.8 716.88 M321.52 560.76L335.23 664.94 M335.23 664.94L421.06 727.71 M305.07 567.44L321.86 673.03 M321.86 673.03L407.6 739.17 M403.52 527.46L403.79 623.48 M403.79 623.48L321.86 673.03 M414.36 531.52L413.05 628.63 M413.05 628.63L331.03 680.1 M425.65 535.74L422.64 633.97 M422.64 633.97L340.58 687.47 M437.42 540.15L432.58 639.51 M432.58 639.51L350.55 695.15 M449.71 544.75L442.89 645.25 M442.89 645.25L360.95 703.18 M462.56 549.55L453.59 651.21 M453.59 651.21L371.82 711.57 M475.99 554.58L464.71 657.4 M464.71 657.4L383.2 720.34 M490.06 559.84L476.26 663.83 M476.26 663.83L395.11 729.53 M504.81 565.36L488.28 670.52 M488.28 670.52L407.6 739.17 M305.07 567.44L403.52 527.46 M403.52 527.46L504.81 565.36 M308.95 591.82L403.58 549.15 M403.58 549.15L501 589.62 M312.54 614.39L403.64 569.48 M403.64 569.48L497.47 612.09 M315.87 635.34L403.69 588.57 M403.69 588.57L494.19 632.95 M318.97 654.83L403.74 606.54 M403.74 606.54L491.13 652.38 M321.86 673.03L403.79 623.48 M403.79 623.48L488.28 670.52" fill="none" stroke="#c2c2c2" stroke-width="1.15"/>
<g fill-opacity="0.63" filter="url(#bl)"><g fill="#ebb726"><circle cx="317.49" cy="592.16" r="3.47"/><circle cx="319.48" cy="593.34" r="3.47"/><circle cx="321.64" cy="594.63" r="3.47"/><circle cx="324.27" cy="596.19" r="3.47"/><circle cx="327.32" cy="598.01" r="3.47"/><circle cx="330.8" cy="600.08" r="3.47"/><circle cx="334.74" cy="602.42" r="3.47"/><circle cx="339.3" cy="605.13" r="3.47"/><circle cx="344.13" cy="608" r="3.47"/><circle cx="349.64" cy="611.29" r="3.47"/><circle cx="355.81" cy="614.96" r="3.47"/><circle cx="362.42" cy="618.89" r="3.47"/><circle cx="369.75" cy="623.25" r="3.47"/><circle cx="377.79" cy="628.03" r="3.47"/><circle cx="385.8" cy="632.8" r="3.47"/><circle cx="393.07" cy="637.12" r="3.47"/><circle cx="399.09" cy="640.7" r="3.47"/><circle cx="403.04" cy="643.06" r="3.47"/><circle cx="405.68" cy="644.62" r="3.47"/><circle cx="340.58" cy="587.63" r="3.47"/><circle cx="342.46" cy="588.57" r="3.47"/><circle cx="344.5" cy="589.59" r="3.47"/><circle cx="346.98" cy="590.84" r="3.47"/><circle cx="349.85" cy="592.28" r="3.47"/><circle cx="353.13" cy="593.92" r="3.47"/><circle cx="356.83" cy="595.77" r="3.47"/><circle cx="361.11" cy="597.92" r="3.47"/><circle cx="365.64" cy="600.19" r="3.47"/><circle cx="370.8" cy="602.79" r="3.47"/><circle cx="376.57" cy="605.68" r="3.47"/><circle cx="382.73" cy="608.77" r="3.47"/><circle cx="389.57" cy="612.2" r="3.47"/><circle cx="397.04" cy="615.95" r="3.47"/><circle cx="404.47" cy="619.67" r="3.47"/><circle cx="411.19" cy="623.05" r="3.47"/><circle cx="416.76" cy="625.84" r="3.47"/><circle cx="420.41" cy="627.67" r="3.47"/><circle cx="422.84" cy="628.89" r="3.47"/><circle cx="361.12" cy="577.55" r="3.47"/><circle cx="363.11" cy="578.45" r="3.47"/><circle cx="365.27" cy="579.43" r="3.47"/><circle cx="367.91" cy="580.63" r="3.47"/><circle cx="370.95" cy="582.01" r="3.47"/><circle cx="374.43" cy="583.59" r="3.47"/><circle cx="378.35" cy="585.37" r="3.47"/><circle cx="382.9" cy="587.44" r="3.47"/><circle cx="387.7" cy="589.62" r="3.47"/><circle cx="393.19" cy="592.12" r="3.47"/><circle cx="399.32" cy="594.9" r="3.47"/><circle cx="405.87" cy="597.88" r="3.47"/><circle cx="413.14" cy="601.18" r="3.47"/><circle cx="421.09" cy="604.79" r="3.47"/><circle cx="429" cy="608.39" r="3.47"/><circle cx="436.16" cy="611.64" r="3.47"/><circle cx="442.1" cy="614.34" r="3.47"/><circle cx="445.99" cy="616.1" r="3.47"/><circle cx="448.58" cy="617.28" r="3.47"/><circle cx="380.08" cy="565.43" r="3.47"/><circle cx="382.08" cy="566.29" r="3.47"/><circle cx="384.25" cy="567.22" r="3.47"/><circle cx="386.89" cy="568.36" r="3.47"/><circle cx="389.94" cy="569.67" r="3.47"/><circle cx="393.42" cy="571.17" r="3.47"/><circle cx="397.34" cy="572.86" r="3.47"/><circle cx="401.89" cy="574.82" r="3.47"/><circle cx="406.69" cy="576.88" r="3.47"/><circle cx="412.16" cy="579.24" r="3.47"/><circle cx="418.27" cy="581.87" r="3.47"/><circle cx="424.78" cy="584.67" r="3.47"/><circle cx="432" cy="587.78" r="3.47"/><circle cx="439.88" cy="591.17" r="3.47"/><circle cx="447.71" cy="594.55" r="3.47"/><circle cx="454.79" cy="597.59" r="3.47"/><circle cx="460.64" cy="600.11" r="3.47"/><circle cx="464.47" cy="601.76" r="3.47"/><circle cx="467.02" cy="602.86" r="3.47"/><circle cx="397.93" cy="556.97" r="3.47"/><circle cx="398.91" cy="557.31" r="3.47"/><circle cx="399.96" cy="557.67" r="3.47"/><circle cx="401.25" cy="558.12" r="3.47"/><circle cx="402.72" cy="558.62" r="3.47"/><circle cx="404.39" cy="559.2" r="3.47"/><circle cx="406.26" cy="559.84" r="3.47"/><circle cx="408.41" cy="560.58" r="3.47"/><circle cx="410.65" cy="561.35" r="3.47"/><circle cx="413.19" cy="562.22" r="3.47"/><circle cx="415.98" cy="563.18" r="3.47"/><circle cx="418.93" cy="564.19" r="3.47"/><circle cx="422.14" cy="565.3" r="3.47"/><circle cx="425.61" cy="566.49" r="3.47"/><circle cx="428.99" cy="567.65" r="3.47"/><circle cx="432.01" cy="568.69" r="3.47"/><circle cx="434.47" cy="569.54" r="3.47"/><circle cx="436.07" cy="570.09" r="3.47"/><circle cx="437.13" cy="570.45" r="3.47"/></g><g fill="#17882c"><circle cx="316.44" cy="584.95" r="3.47"/><circle cx="318.35" cy="586.01" r="3.47"/><circle cx="320.41" cy="587.14" r="3.47"/><circle cx="322.93" cy="588.53" r="3.47"/><circle cx="325.84" cy="590.14" r="3.47"/><circle cx="329.16" cy="591.98" r="3.47"/><circle cx="332.91" cy="594.05" r="3.47"/><circle cx="337.27" cy="596.46" r="3.47"/><circle cx="341.87" cy="599" r="3.47"/><circle cx="347.13" cy="601.9" r="3.47"/><circle cx="353.01" cy="605.15" r="3.47"/><circle cx="359.3" cy="608.62" r="3.47"/><circle cx="366.28" cy="612.48" r="3.47"/><circle cx="373.93" cy="616.7" r="3.47"/><circle cx="381.54" cy="620.91" r="3.47"/><circle cx="388.44" cy="624.72" r="3.47"/><circle cx="394.16" cy="627.88" r="3.47"/><circle cx="397.92" cy="629.95" r="3.47"/><circle cx="400.42" cy="631.33" r="3.47"/><circle cx="339.66" cy="578.92" r="3.47"/><circle cx="341.58" cy="579.81" r="3.47"/><circle cx="343.65" cy="580.78" r="3.47"/><circle cx="346.18" cy="581.96" r="3.47"/><circle cx="349.11" cy="583.32" r="3.47"/><circle cx="352.46" cy="584.87" r="3.47"/><circle cx="356.23" cy="586.63" r="3.47"/><circle cx="360.61" cy="588.67" r="3.47"/><circle cx="365.24" cy="590.82" r="3.47"/><circle cx="370.53" cy="593.28" r="3.47"/><circle cx="376.44" cy="596.03" r="3.47"/><circle cx="382.75" cy="598.96" r="3.47"/><circle cx="389.77" cy="602.23" r="3.47"/><circle cx="397.45" cy="605.8" r="3.47"/><circle cx="405.1" cy="609.36" r="3.47"/><circle cx="412.03" cy="612.58" r="3.47"/><circle cx="417.77" cy="615.25" r="3.47"/><circle cx="421.53" cy="617" r="3.47"/><circle cx="424.04" cy="618.17" r="3.47"/><circle cx="360.48" cy="568.58" r="3.47"/><circle cx="362.4" cy="569.4" r="3.47"/><circle cx="364.48" cy="570.29" r="3.47"/><circle cx="367.01" cy="571.37" r="3.47"/><circle cx="369.94" cy="572.62" r="3.47"/><circle cx="373.28" cy="574.04" r="3.47"/><circle cx="377.04" cy="575.65" r="3.47"/><circle cx="381.41" cy="577.51" r="3.47"/><circle cx="386.02" cy="579.47" r="3.47"/><circle cx="391.28" cy="581.72" r="3.47"/><circle cx="397.15" cy="584.22" r="3.47"/><circle cx="403.42" cy="586.89" r="3.47"/><circle cx="410.37" cy="589.86" r="3.47"/><circle cx="417.97" cy="593.1" r="3.47"/><circle cx="425.52" cy="596.32" r="3.47"/><circle cx="432.35" cy="599.23" r="3.47"/><circle cx="438" cy="601.64" r="3.47"/><circle cx="441.71" cy="603.22" r="3.47"/><circle cx="444.17" cy="604.27" r="3.47"/><circle cx="379.76" cy="557.46" r="3.47"/><circle cx="381.7" cy="558.24" r="3.47"/><circle cx="383.79" cy="559.09" r="3.47"/><circle cx="386.34" cy="560.13" r="3.47"/><circle cx="389.29" cy="561.33" r="3.47"/><circle cx="392.65" cy="562.7" r="3.47"/><circle cx="396.44" cy="564.24" r="3.47"/><circle cx="400.83" cy="566.02" r="3.47"/><circle cx="405.45" cy="567.9" r="3.47"/><circle cx="410.73" cy="570.05" r="3.47"/><circle cx="416.61" cy="572.44" r="3.47"/><circle cx="422.88" cy="574.99" r="3.47"/><circle cx="429.82" cy="577.81" r="3.47"/><circle cx="437.4" cy="580.9" r="3.47"/><circle cx="444.92" cy="583.95" r="3.47"/><circle cx="451.7" cy="586.72" r="3.47"/><circle cx="457.31" cy="589" r="3.47"/><circle cx="460.99" cy="590.49" r="3.47"/><circle cx="463.43" cy="591.48" r="3.47"/><circle cx="397.82" cy="548.33" r="3.47"/><circle cx="398.95" cy="548.71" r="3.47"/><circle cx="400.16" cy="549.12" r="3.47"/><circle cx="401.63" cy="549.63" r="3.47"/><circle cx="403.32" cy="550.21" r="3.47"/><circle cx="405.24" cy="550.86" r="3.47"/><circle cx="407.39" cy="551.59" r="3.47"/><circle cx="409.86" cy="552.44" r="3.47"/><circle cx="412.44" cy="553.32" r="3.47"/><circle cx="415.36" cy="554.32" r="3.47"/><circle cx="418.59" cy="555.42" r="3.47"/><circle cx="422" cy="556.58" r="3.47"/><circle cx="425.72" cy="557.86" r="3.47"/><circle cx="429.74" cy="559.23" r="3.47"/><circle cx="433.68" cy="560.58" r="3.47"/><circle cx="437.2" cy="561.78" r="3.47"/><circle cx="440.07" cy="562.76" r="3.47"/><circle cx="441.94" cy="563.4" r="3.47"/><circle cx="443.18" cy="563.82" r="3.47"/></g><g fill="#1467e6"><circle cx="318.48" cy="598.97" r="3.47"/><circle cx="320.62" cy="600.37" r="3.47"/><circle cx="322.95" cy="601.9" r="3.47"/><circle cx="325.79" cy="603.76" r="3.47"/><circle cx="329.08" cy="605.92" r="3.47"/><circle cx="332.84" cy="608.38" r="3.47"/><circle cx="337.08" cy="611.17" r="3.47"/><circle cx="342.02" cy="614.4" r="3.47"/><circle cx="347.23" cy="617.82" r="3.47"/><circle cx="353.2" cy="621.73" r="3.47"/><circle cx="359.88" cy="626.11" r="3.47"/><circle cx="367.03" cy="630.8" r="3.47"/><circle cx="374.99" cy="636.01" r="3.47"/><circle cx="383.71" cy="641.73" r="3.47"/><circle cx="392.41" cy="647.44" r="3.47"/><circle cx="400.31" cy="652.61" r="3.47"/><circle cx="406.86" cy="656.91" r="3.47"/><circle cx="411.17" cy="659.73" r="3.47"/><circle cx="414.04" cy="661.62" r="3.47"/><circle cx="341.69" cy="598.01" r="3.47"/><circle cx="343.81" cy="599.23" r="3.47"/><circle cx="346.11" cy="600.55" r="3.47"/><circle cx="348.92" cy="602.16" r="3.47"/><circle cx="352.17" cy="604.03" r="3.47"/><circle cx="355.87" cy="606.15" r="3.47"/><circle cx="360.07" cy="608.56" r="3.47"/><circle cx="364.93" cy="611.35" r="3.47"/><circle cx="370.08" cy="614.31" r="3.47"/><circle cx="375.96" cy="617.69" r="3.47"/><circle cx="382.55" cy="621.46" r="3.47"/><circle cx="389.6" cy="625.51" r="3.47"/><circle cx="397.43" cy="630.01" r="3.47"/><circle cx="406.02" cy="634.93" r="3.47"/><circle cx="414.58" cy="639.85" r="3.47"/><circle cx="422.34" cy="644.3" r="3.47"/><circle cx="428.79" cy="648" r="3.47"/><circle cx="433.02" cy="650.43" r="3.47"/><circle cx="435.84" cy="652.05" r="3.47"/><circle cx="361.98" cy="589.59" r="3.47"/><circle cx="363.71" cy="590.41" r="3.47"/><circle cx="365.59" cy="591.29" r="3.47"/><circle cx="367.88" cy="592.38" r="3.47"/><circle cx="370.52" cy="593.62" r="3.47"/><circle cx="373.53" cy="595.05" r="3.47"/><circle cx="376.92" cy="596.65" r="3.47"/><circle cx="380.84" cy="598.5" r="3.47"/><circle cx="384.97" cy="600.45" r="3.47"/><circle cx="389.68" cy="602.68" r="3.47"/><circle cx="394.92" cy="605.16" r="3.47"/><circle cx="400.5" cy="607.79" r="3.47"/><circle cx="406.67" cy="610.71" r="3.47"/><circle cx="413.39" cy="613.89" r="3.47"/><circle cx="420.05" cy="617.03" r="3.47"/><circle cx="426.06" cy="619.87" r="3.47"/><circle cx="431.01" cy="622.21" r="3.47"/><circle cx="434.25" cy="623.74" r="3.47"/><circle cx="436.41" cy="624.76" r="3.47"/><circle cx="380.5" cy="575.89" r="3.47"/><circle cx="381.84" cy="576.45" r="3.47"/><circle cx="383.29" cy="577.07" r="3.47"/><circle cx="385.05" cy="577.81" r="3.47"/><circle cx="387.07" cy="578.67" r="3.47"/><circle cx="389.37" cy="579.64" r="3.47"/><circle cx="391.95" cy="580.73" r="3.47"/><circle cx="394.93" cy="581.98" r="3.47"/><circle cx="398.05" cy="583.3" r="3.47"/><circle cx="401.58" cy="584.8" r="3.47"/><circle cx="405.5" cy="586.45" r="3.47"/><circle cx="409.65" cy="588.2" r="3.47"/><circle cx="414.2" cy="590.13" r="3.47"/><circle cx="419.13" cy="592.21" r="3.47"/><circle cx="423.97" cy="594.26" r="3.47"/><circle cx="428.31" cy="596.09" r="3.47"/><circle cx="431.87" cy="597.6" r="3.47"/><circle cx="434.19" cy="598.58" r="3.47"/><circle cx="435.73" cy="599.23" r="3.47"/><circle cx="398.03" cy="565.59" r="3.47"/><circle cx="398.7" cy="565.84" r="3.47"/><circle cx="399.43" cy="566.1" r="3.47"/><circle cx="400.3" cy="566.42" r="3.47"/><circle cx="401.31" cy="566.79" r="3.47"/><circle cx="402.45" cy="567.2" r="3.47"/><circle cx="403.73" cy="567.66" r="3.47"/><circle cx="405.18" cy="568.19" r="3.47"/><circle cx="406.7" cy="568.74" r="3.47"/><circle cx="408.41" cy="569.36" r="3.47"/><circle cx="410.29" cy="570.04" r="3.47"/><circle cx="412.27" cy="570.76" r="3.47"/><circle cx="414.42" cy="571.54" r="3.47"/><circle cx="416.72" cy="572.37" r="3.47"/><circle cx="418.96" cy="573.19" r="3.47"/><circle cx="420.95" cy="573.91" r="3.47"/><circle cx="422.57" cy="574.5" r="3.47"/><circle cx="423.62" cy="574.88" r="3.47"/><circle cx="424.31" cy="575.13" r="3.47"/></g></g>
<g font-size="9.5" text-anchor="middle" fill="#000" stroke="#000" stroke-width="0.25"><text transform="translate(299.2 575.45) scale(.995 1)">0</text><text transform="translate(300.9 596.65) scale(.995 1)">-1</text><text transform="translate(304.4 617.75) scale(.995 1)">-2</text><text transform="translate(308.2 638.75) scale(.995 1)">-3</text><text transform="translate(311.7 660.15) scale(.995 1)">-4</text><text transform="translate(314.1 677.25) scale(.995 1)">0</text><text transform="translate(319.6 685.85) scale(.995 1)">5</text><text transform="translate(328.1 695.3) scale(.995 1)">10</text><text transform="translate(339.1 704.3) scale(.995 1)">15</text><text transform="translate(350.3 713.15) scale(.995 1)">20</text><text transform="translate(361.4 722.15) scale(.995 1)">25</text><text transform="translate(372.5 731.05) scale(.995 1)">30</text><text transform="translate(383.7 740) scale(.995 1)">35</text><text transform="translate(394.85 748.95) scale(.995 1)">40</text><text transform="translate(419.1 748.95) scale(.995 1)">80</text><text transform="translate(431.14 738.75) scale(.995 1)">70</text><text transform="translate(443.2 728.65) scale(.995 1)">60</text><text transform="translate(455.2 718.45) scale(.995 1)">50</text><text transform="translate(467.3 708.25) scale(.995 1)">40</text><text transform="translate(479.3 698.1) scale(.995 1)">30</text><text transform="translate(491.4 687.85) scale(.995 1)">20</text><text transform="translate(503.4 677.75) scale(.995 1)">10</text></g>
<text x="307.4" y="726.3" font-size="13.2" font-weight="bold">φ</text>
<text x="319.9" y="726.5" font-size="12.4" textLength="12.5" lengthAdjust="spacingAndGlyphs">[°]</text>
<text x="469.5" y="728" font-size="15.2" font-weight="bold" textLength="7.6" lengthAdjust="spacingAndGlyphs">θ</text>
<text x="480.8" y="728" font-size="12.4" textLength="12.5" lengthAdjust="spacingAndGlyphs">[°]</text>
<text x="271.3" y="624.4" font-size="15" font-weight="bold" font-style="italic">v<tspan font-size="9.2" dy="3.4">yz</tspan></text>
<circle cx="280.4" cy="533.9" r="16.15" fill="none" stroke="#000" stroke-width="1.9"/>
<text x="280.4" y="537.9" font-size="10.7" font-weight="bold" text-anchor="middle">F</text>
<rect x="121.4" y="787.4" width="24.7" height="15.9" fill="#10b050"/>
<text x="153" y="800.9" font-size="11.8" font-weight="bold" textLength="36.5" lengthAdjust="spacingAndGlyphs"><tspan font-style="italic">h/l</tspan> = 1</text>
<rect x="233" y="787.4" width="24.7" height="15.9" fill="#d9b846"/>
<text x="263.5" y="800.9" font-size="11.8" font-weight="bold" textLength="55" lengthAdjust="spacingAndGlyphs"><tspan font-style="italic">h/l</tspan> = 1.25</text>
<rect x="346.6" y="787.4" width="24.7" height="15.9" fill="#4182e4"/>
<text x="379.4" y="800.9" font-size="11.8" font-weight="bold" textLength="48.3" lengthAdjust="spacingAndGlyphs"><tspan font-style="italic">h/l</tspan> = 1.5</text>
</svg>
</body></html>
